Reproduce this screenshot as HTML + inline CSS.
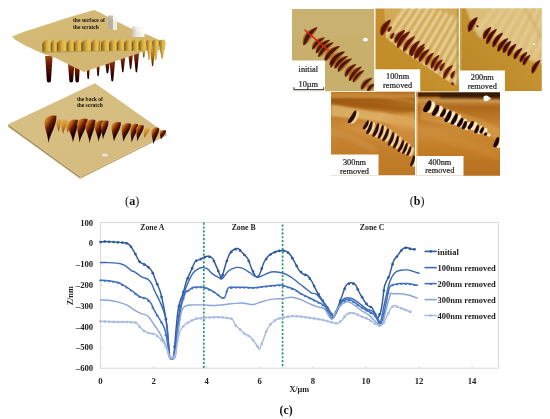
<!DOCTYPE html>
<html><head><meta charset="utf-8"><style>
html,body{margin:0;padding:0;background:#fff;}
body{width:550px;height:419px;overflow:hidden;}
svg{display:block;}
</style></head><body>
<svg width="550" height="419" viewBox="0 0 550 419">
<defs>
<linearGradient id="spk" x1="0" y1="0" x2="0" y2="1">
 <stop offset="0" stop-color="#9a4414"/><stop offset="0.3" stop-color="#6a1c06"/><stop offset="0.7" stop-color="#320600"/><stop offset="1" stop-color="#1a0300"/>
</linearGradient>
<linearGradient id="spk2" x1="0" y1="0" x2="0" y2="1">
 <stop offset="0" stop-color="#d8b040"/><stop offset="0.5" stop-color="#a87020"/><stop offset="1" stop-color="#4a1404"/>
</linearGradient>
<linearGradient id="bump" x1="0" y1="0" x2="1" y2="0">
 <stop offset="0" stop-color="#6a4c12"/><stop offset="0.2" stop-color="#a88028"/><stop offset="0.5" stop-color="#d8ae40"/><stop offset="0.8" stop-color="#eac65c"/><stop offset="1" stop-color="#c89a34"/>
</linearGradient>
<linearGradient id="flame" x1="0" y1="0.05" x2="0.55" y2="0.85">
 <stop offset="0" stop-color="#e2a23a"/><stop offset="0.25" stop-color="#c06a18"/><stop offset="0.5" stop-color="#6a1c06"/><stop offset="0.75" stop-color="#260500"/><stop offset="1" stop-color="#100200"/>
</linearGradient>
<linearGradient id="flameS" x1="0" y1="0" x2="0.35" y2="1">
 <stop offset="0" stop-color="#e8b450"/><stop offset="0.5" stop-color="#d09030"/><stop offset="1" stop-color="#904010"/>
</linearGradient>
<linearGradient id="whsp" x1="0" y1="0" x2="1" y2="0">
 <stop offset="0" stop-color="#ffffff" stop-opacity="0.2"/><stop offset="0.5" stop-color="#f4f2ee" stop-opacity="0.9"/><stop offset="1" stop-color="#ffffff" stop-opacity="0.3"/>
</linearGradient>
<linearGradient id="whsp2" x1="0" y1="0" x2="1" y2="0">
 <stop offset="0" stop-color="#c8c4b8" stop-opacity="0.8"/><stop offset="0.4" stop-color="#f0eee8" stop-opacity="0.9"/><stop offset="1" stop-color="#ffffff" stop-opacity="0.95"/>
</linearGradient>
<linearGradient id="sheet1" x1="0" y1="0" x2="1" y2="1">
 <stop offset="0" stop-color="#d6bc78"/><stop offset="1" stop-color="#d0b470"/>
</linearGradient>
<linearGradient id="sheet2" x1="0" y1="0" x2="1" y2="1">
 <stop offset="0" stop-color="#d8c084"/><stop offset="1" stop-color="#d4ba7c"/>
</linearGradient>
<filter id="ba" x="-0.1" y="-0.1" width="1.2" height="1.2"><feGaussianBlur stdDeviation="0.4"/></filter>
</defs>
<g filter="url(#ba)">
<path d="M45.2,56.0 L52.6,56.0 L50.9,81.5 Q48.9,83.5 46.9,81.5 Z" fill="url(#spk)"/>
<path d="M68.0,64.0 L74.4,64.0 L73.0,81.5 Q71.2,83.5 69.4,81.5 Z" fill="url(#spk)"/>
<path d="M74.4,64.0 L80.0,64.0 L78.9,81.5 Q77.2,83.5 75.5,81.5 Z" fill="url(#spk)"/>
<path d="M86.5,66.0 L89.8,66.0 L89.0,78.3 Q88.2,80.3 87.4,78.3 Z" fill="url(#spk)"/>
<path d="M96.4,64.0 L99.8,64.0 L98.9,75.2 Q98.1,77.2 97.3,75.2 Z" fill="url(#spk)"/>
<path d="M104.8,61.0 L110.0,61.0 L108.3,72.5 Q107.4,74.5 106.5,72.5 Z" fill="url(#spk)"/>
<path d="M109.5,60.0 L115.2,60.0 L113.3,80.6 Q112.3,82.6 111.3,80.6 Z" fill="url(#spk)"/>
<path d="M120.3,57.0 L125.3,57.0 L123.5,71.4 Q122.8,73.4 122.1,71.4 Z" fill="url(#spk)"/>
<path d="M128.2,54.0 L133.0,54.0 L131.3,68.3 Q130.6,70.3 129.9,68.3 Z" fill="url(#spk)"/>
<path d="M133.6,52.0 L139.2,52.0 L137.2,71.4 Q136.4,73.4 135.6,71.4 Z" fill="url(#spk)"/>
<path d="M142.2,50.0 L145.4,50.0 L144.4,56.7 Q143.8,58.7 143.2,56.7 Z" fill="url(#spk2)"/>
<path d="M149.8,46.0 L155.4,46.0 L153.3,65.2 Q152.6,67.2 151.9,65.2 Z" fill="url(#spk2)"/>
<path d="M159.2,42.0 L164.6,42.0 L162.6,55.9 Q161.9,57.9 161.2,55.9 Z" fill="url(#spk2)"/>
<polygon points="12.0,36.5 24.0,31.8 33.6,28.8 45.0,25.0 70.0,17.0 94.0,10.0 100.0,12.5 108.0,17.0 120.0,23.0 130.0,28.0 148.0,35.0 158.0,39.5 166.0,43.5 150.0,49.5 120.0,59.5 84.0,72.0 54.6,57.4 45.0,54.6 36.5,50.8 24.1,45.0 15.0,39.5" fill="url(#sheet1)"/>
<polygon points="42.0,45.0 100.0,42.0 165.0,40.0 165.0,50.0 100.0,51.5 43.0,53.0" fill="#a88a34" opacity="0.6"/>
<polygon points="108.0,15.5 113.0,15.5 113.0,29.0 108.0,29.0" fill="#b0aea6" opacity="0.8"/>
<polygon points="113.0,15.5 117.0,15.5 117.0,30.0 113.0,30.0" fill="#f6f4ee" opacity="0.85"/>
<polygon points="132.0,26.5 144.5,26.5 144.5,37.0 132.0,37.0" fill="url(#whsp2)"/>
<path d="M42.5,51.5 L42.5,43.5 Q44.6,39.5 48.4,39.5 Q51.4,40.0 51.4,43.5 L51.4,51.5 Z" fill="url(#bump)"/>
<path d="M50.9,51.4 L50.9,43.5 Q52.4,39.5 55.1,39.5 Q57.4,40.0 57.4,43.5 L57.4,51.4 Z" fill="url(#bump)"/>
<path d="M56.9,51.3 L56.9,43.4 Q59.4,39.4 63.8,39.4 Q67.2,39.9 67.2,43.4 L67.2,51.3 Z" fill="url(#bump)"/>
<path d="M66.7,51.2 L66.7,43.4 Q68.5,39.4 71.7,39.4 Q74.3,39.9 74.3,43.4 L74.3,51.2 Z" fill="url(#bump)"/>
<path d="M73.8,51.1 L73.8,43.4 Q75.7,39.4 79.1,39.4 Q81.9,39.9 81.9,43.4 L81.9,51.1 Z" fill="url(#bump)"/>
<path d="M81.4,51.0 L81.4,43.3 Q83.9,39.3 88.3,39.3 Q91.8,39.8 91.8,43.3 L91.8,51.0 Z" fill="url(#bump)"/>
<path d="M91.3,50.9 L91.3,43.3 Q93.2,39.3 96.6,39.3 Q99.4,39.8 99.4,43.3 L99.4,50.9 Z" fill="url(#bump)"/>
<path d="M98.9,50.8 L98.9,43.3 Q99.5,39.3 100.4,39.3 Q101.6,39.8 101.6,43.3 L101.6,50.8 Z" fill="url(#bump)"/>
<path d="M101.1,50.8 L101.1,43.3 Q103.1,39.3 106.8,39.3 Q109.8,39.8 109.8,43.3 L109.8,50.8 Z" fill="url(#bump)"/>
<path d="M109.3,50.7 L109.3,43.2 Q111.2,39.2 114.5,39.2 Q117.3,39.7 117.3,43.2 L117.3,50.7 Z" fill="url(#bump)"/>
<path d="M116.8,50.6 L116.8,43.2 Q118.7,39.2 122.0,39.2 Q124.8,39.7 124.8,43.2 L124.8,50.6 Z" fill="url(#bump)"/>
<path d="M124.3,50.5 L124.3,43.2 Q126.2,39.2 129.6,39.2 Q132.3,39.7 132.3,43.2 L132.3,50.5 Z" fill="url(#bump)"/>
<path d="M131.8,50.4 L131.8,43.1 Q133.5,39.1 136.6,39.1 Q139.2,39.6 139.2,43.1 L139.2,50.4 Z" fill="url(#bump)"/>
<path d="M138.7,50.3 L138.7,43.1 Q140.6,39.1 143.9,39.1 Q146.7,39.6 146.7,43.1 L146.7,50.3 Z" fill="url(#bump)"/>
<path d="M146.2,42.1 Q147.4,39.1 150.5,39.6 Q152.3,40.6 152.3,43.1 L149.9,60.0 L148.6,60.0 Z" fill="url(#bump)"/>
<path d="M152.3,42.1 Q153.7,39.1 157.1,39.6 Q159.1,40.6 159.1,43.1 L156.4,60.0 L155.0,60.0 Z" fill="url(#bump)"/>
<path d="M159.1,42.0 Q160.4,39.0 163.6,39.5 Q165.5,40.5 165.5,43.0 L162.9,59.0 L161.7,59.0 Z" fill="url(#bump)"/>
<text x="73" y="22.3" font-family="Liberation Serif, serif" font-weight="bold" font-size="5.5" fill="#16120c">the surface of</text>
<text x="73" y="29.2" font-family="Liberation Serif, serif" font-weight="bold" font-size="5.5" fill="#16120c">the scratch</text>
<polygon points="8.2,124.2 80.2,176.5 80.2,178.8 8.2,126.8" fill="#ad9660"/>
<polygon points="80.2,176.5 166.9,134.0 166.9,135.2 80.2,178.8" fill="#c2aa70"/>
<polygon points="95.0,83.3 166.9,134.0 80.2,176.5 8.2,124.2" fill="url(#sheet2)"/>
<path d="M56.5,116.0 C56.5,126.2 49.7,134.6 48.5,143.0 C47.5,133.2 44.5,129.0 44.5,122.8 C44.5,116.4 51.7,114.5 56.5,116.0 Z" fill="url(#flame)"/>
<path d="M61.0,120.0 C61.0,124.2 59.7,128.1 58.5,132.0 C57.5,127.5 56.0,125.5 56.0,122.6 C56.0,119.7 59.0,118.5 61.0,120.0 Z" fill="url(#flameS)"/>
<path d="M67.0,120.0 C67.0,125.0 64.2,129.5 63.0,134.0 C62.0,128.8 61.0,126.5 61.0,123.2 C61.0,119.8 64.6,118.5 67.0,120.0 Z" fill="url(#flameS)"/>
<path d="M71.0,122.0 C71.0,125.8 68.7,129.4 67.5,133.0 C66.5,128.8 66.0,127.0 66.0,124.4 C66.0,121.6 69.0,120.5 71.0,122.0 Z" fill="url(#flameS)"/>
<path d="M78.0,120.0 C78.0,128.4 74.2,135.5 73.0,142.6 C72.0,134.3 68.0,130.8 68.0,125.6 C68.0,120.2 74.0,118.5 78.0,120.0 Z" fill="url(#flame)"/>
<path d="M87.5,119.0 C87.5,127.8 80.8,135.2 79.6,142.6 C78.6,134.0 77.0,130.3 77.0,124.9 C77.0,119.2 83.3,117.5 87.5,119.0 Z" fill="url(#flame)"/>
<path d="M95.4,120.0 C95.4,128.6 90.8,135.9 89.6,143.1 C88.6,134.7 85.5,131.1 85.5,125.7 C85.5,120.2 91.4,118.5 95.4,120.0 Z" fill="url(#flame)"/>
<path d="M104.5,121.0 C104.5,128.7 99.7,135.3 98.5,141.8 C97.5,134.2 94.7,130.9 94.7,126.1 C94.7,121.1 100.6,119.5 104.5,121.0 Z" fill="url(#flame)"/>
<path d="M108.5,121.0 C108.5,127.8 104.2,133.7 103.0,139.5 C102.0,132.7 101.0,129.8 101.0,125.5 C101.0,121.0 105.5,119.5 108.5,121.0 Z" fill="url(#flame)"/>
<path d="M121.0,122.5 C121.0,129.6 115.2,135.7 114.0,141.8 C113.0,134.7 111.5,131.7 111.5,127.2 C111.5,122.5 117.2,121.0 121.0,122.5 Z" fill="url(#flame)"/>
<path d="M131.2,123.7 C131.2,130.3 124.7,136.1 123.5,141.8 C122.5,135.1 121.6,132.2 121.6,128.0 C121.6,123.7 127.4,122.2 131.2,123.7 Z" fill="url(#flame)"/>
<path d="M138.2,124.4 C138.2,131.0 133.0,136.8 131.8,142.5 C130.8,135.8 130.5,132.9 130.5,128.7 C130.5,124.4 135.1,122.9 138.2,124.4 Z" fill="url(#flame)"/>
<path d="M143.9,125.6 C143.9,131.4 138.7,136.4 137.5,141.5 C136.5,135.6 136.3,133.1 136.3,129.3 C136.3,125.4 140.9,124.1 143.9,125.6 Z" fill="url(#flame)"/>
<path d="M149.6,128.8 C149.6,131.9 145.7,134.9 144.5,138.0 C143.5,134.4 143.9,132.9 143.9,130.7 C143.9,128.3 147.3,127.3 149.6,128.8 Z" fill="url(#flameS)"/>
<path d="M159.2,128.2 C159.2,134.0 154.7,139.1 153.5,144.2 C152.5,138.2 151.5,135.7 151.5,132.0 C151.5,128.1 156.1,126.7 159.2,128.2 Z" fill="url(#flame)"/>
<path d="M166.2,130.7 C166.2,133.6 162.2,136.6 161.0,139.5 C160.0,136.1 159.8,134.6 159.8,132.4 C159.8,130.2 163.6,129.2 166.2,130.7 Z" fill="url(#flame)"/>
<ellipse cx="105" cy="155" rx="3" ry="1.6" fill="#e8e6e0"/>
<text x="76.9" y="100.8" font-family="Liberation Serif, serif" font-weight="bold" font-size="5.5" fill="#16120c">the back of</text>
<text x="76.9" y="107.3" font-family="Liberation Serif, serif" font-weight="bold" font-size="5.5" fill="#16120c">the scratch</text>
</g>
<defs>
<clipPath id="c1"><rect x="292" y="9" width="82.2" height="82.3"/></clipPath>
<clipPath id="c2"><rect x="375.5" y="8.5" width="83.5" height="83.1"/></clipPath>
<clipPath id="c3"><rect x="460" y="8.3" width="81.8" height="82.7"/></clipPath>
<clipPath id="c4"><rect x="331" y="92" width="84" height="83.2"/></clipPath>
<clipPath id="c5"><rect x="416.5" y="92.2" width="83.5" height="83.5"/></clipPath>
<filter id="bl1" x="-0.1" y="-0.1" width="1.2" height="1.2"><feGaussianBlur stdDeviation="0.55"/></filter>
<filter id="bl3" x="-0.2" y="-0.2" width="1.4" height="1.4"><feGaussianBlur stdDeviation="2.5"/></filter>
<filter id="bl1b" x="-0.1" y="-0.1" width="1.2" height="1.2"><feGaussianBlur stdDeviation="0.9"/></filter>
<filter id="bl2" x="-0.2" y="-0.2" width="1.4" height="1.4"><feGaussianBlur stdDeviation="1.2"/></filter>
<linearGradient id="g2" x1="0" y1="1" x2="1" y2="0">
 <stop offset="0" stop-color="#bf8828"/><stop offset="0.55" stop-color="#c6922e"/><stop offset="1" stop-color="#d2a548"/>
</linearGradient>
<linearGradient id="g3" x1="0" y1="1" x2="1" y2="0">
 <stop offset="0" stop-color="#b98426"/><stop offset="0.5" stop-color="#c2902e"/><stop offset="1" stop-color="#cda04a"/>
</linearGradient>
<linearGradient id="g4" x1="0" y1="0" x2="0" y2="1">
 <stop offset="0" stop-color="#a8641a"/><stop offset="0.07" stop-color="#c88838"/><stop offset="0.11" stop-color="#a25c14"/><stop offset="0.22" stop-color="#b87424"/>
 <stop offset="0.45" stop-color="#cf9040"/><stop offset="0.75" stop-color="#c4802e"/><stop offset="1" stop-color="#bb7626"/>
</linearGradient>
<linearGradient id="g5" x1="0" y1="0" x2="0" y2="1">
 <stop offset="0" stop-color="#5e2a06"/><stop offset="0.06" stop-color="#8a4a10"/><stop offset="0.12" stop-color="#c08a40"/><stop offset="0.2" stop-color="#b0681a"/>
 <stop offset="0.45" stop-color="#c98a35"/><stop offset="0.7" stop-color="#c27c25"/><stop offset="1" stop-color="#b56e1e"/>
</linearGradient>
</defs>
<g clip-path="url(#c1)"><g filter="url(#bl1)">
<rect x="290" y="7" width="86" height="86" fill="#c9af6c"/>
<rect x="290" y="7" width="86" height="30" fill="#cab476" opacity="0.5" filter="url(#bl3)"/>
<path d="M303.8,45.3 L305.8,44.8 L307.0,43.7 L308.1,42.5 L309.1,41.3 L310.0,40.0 L310.9,38.7 L311.8,37.3 L312.6,36.0 L313.5,34.6 L314.4,33.3 L315.3,31.9 L316.1,30.6 L316.9,29.2 L317.4,27.5 L317.0,27.2 L314.9,27.6 L313.1,28.2 L311.4,29.0 L309.8,29.8 L308.4,30.7 L307.1,31.7 L305.9,32.8 L304.9,34.1 L304.1,35.4 L303.4,36.9 L303.0,38.6 L302.7,40.4 L302.7,42.4 L303.4,45.0 Z" fill="#a85a16" opacity="0.8"/>
<path d="M312.5,49.4 L314.1,49.4 L315.3,48.8 L316.2,48.1 L317.1,47.3 L318.0,46.4 L318.8,45.5 L319.6,44.6 L320.4,43.7 L321.2,42.8 L322.0,41.8 L322.7,40.9 L323.5,40.0 L324.2,38.9 L324.7,37.8 L324.4,37.4 L322.7,37.4 L321.2,37.6 L319.9,37.9 L318.6,38.3 L317.4,38.8 L316.3,39.4 L315.3,40.1 L314.4,40.9 L313.6,41.8 L312.9,42.9 L312.4,44.1 L312.0,45.4 L311.8,47.0 L312.2,49.0 Z" fill="#a85a16" opacity="0.8"/>
<path d="M316.2,53.2 L317.9,53.0 L319.1,52.4 L320.2,51.5 L321.1,50.6 L322.1,49.6 L323.0,48.6 L323.9,47.6 L324.8,46.6 L325.7,45.6 L326.6,44.6 L327.5,43.6 L328.3,42.6 L329.2,41.5 L329.8,40.2 L329.4,39.8 L327.6,39.9 L326.0,40.1 L324.5,40.5 L323.1,41.0 L321.8,41.5 L320.6,42.2 L319.4,43.0 L318.5,43.9 L317.6,44.9 L316.8,46.1 L316.2,47.4 L315.8,48.9 L315.5,50.6 L315.8,52.8 Z" fill="#a85a16" opacity="0.8"/>
<path d="M318.6,56.9 L320.4,56.7 L321.7,55.9 L322.8,54.9 L323.9,53.9 L324.9,52.8 L325.9,51.7 L326.9,50.6 L327.9,49.5 L328.9,48.4 L329.9,47.3 L330.9,46.2 L331.9,45.1 L332.8,44.0 L333.6,42.6 L333.2,42.3 L331.3,42.4 L329.5,42.7 L327.9,43.2 L326.4,43.7 L325.0,44.3 L323.6,45.1 L322.4,46.0 L321.3,47.0 L320.4,48.1 L319.6,49.4 L318.9,50.8 L318.4,52.4 L318.0,54.2 L318.2,56.6 Z" fill="#a85a16" opacity="0.8"/>
<path d="M324.8,60.6 L326.6,60.4 L327.9,59.6 L329.0,58.6 L330.1,57.6 L331.1,56.5 L332.1,55.4 L333.1,54.3 L334.1,53.2 L335.1,52.1 L336.1,51.0 L337.1,49.9 L338.1,48.8 L339.1,47.7 L339.9,46.3 L339.5,46.0 L337.6,46.1 L335.8,46.4 L334.2,46.8 L332.7,47.4 L331.2,48.0 L329.9,48.8 L328.7,49.6 L327.6,50.7 L326.6,51.8 L325.8,53.1 L325.1,54.5 L324.6,56.1 L324.2,57.9 L324.4,60.3 Z" fill="#a85a16" opacity="0.8"/>
<path d="M329.8,65.0 L331.6,64.9 L332.8,64.2 L334.0,63.3 L335.0,62.4 L336.1,61.4 L337.1,60.4 L338.1,59.4 L339.1,58.4 L340.1,57.4 L341.1,56.4 L342.1,55.4 L343.0,54.4 L344.0,53.3 L344.7,52.0 L344.4,51.6 L342.5,51.6 L340.9,51.8 L339.3,52.2 L337.8,52.6 L336.4,53.1 L335.1,53.8 L333.9,54.6 L332.8,55.5 L331.8,56.5 L331.0,57.7 L330.3,59.0 L329.7,60.6 L329.3,62.3 L329.5,64.6 Z" fill="#a85a16" opacity="0.8"/>
<path d="M334.8,68.6 L336.4,68.5 L337.6,67.9 L338.6,67.1 L339.6,66.3 L340.5,65.3 L341.3,64.4 L342.2,63.4 L343.0,62.5 L343.9,61.5 L344.7,60.5 L345.6,59.6 L346.4,58.6 L347.2,57.6 L347.8,56.3 L347.4,56.0 L345.7,56.0 L344.1,56.2 L342.7,56.6 L341.4,57.0 L340.1,57.5 L338.9,58.1 L337.9,58.9 L336.9,59.7 L336.1,60.7 L335.4,61.8 L334.8,63.1 L334.4,64.5 L334.1,66.1 L334.4,68.3 Z" fill="#a85a16" opacity="0.8"/>
<path d="M338.2,71.8 L339.9,71.6 L341.1,71.0 L342.2,70.1 L343.1,69.2 L344.1,68.2 L345.0,67.2 L345.9,66.2 L346.8,65.2 L347.7,64.2 L348.6,63.2 L349.5,62.2 L350.3,61.2 L351.2,60.1 L351.8,58.8 L351.4,58.4 L349.6,58.5 L348.0,58.7 L346.5,59.1 L345.1,59.6 L343.8,60.1 L342.6,60.8 L341.4,61.6 L340.5,62.5 L339.6,63.5 L338.8,64.7 L338.2,66.0 L337.8,67.5 L337.5,69.2 L337.8,71.4 Z" fill="#a85a16" opacity="0.8"/>
<path d="M345.2,76.7 L346.8,76.6 L347.8,75.9 L348.7,75.2 L349.5,74.3 L350.3,73.4 L351.0,72.5 L351.7,71.5 L352.4,70.6 L353.1,69.6 L353.8,68.6 L354.4,67.7 L355.1,66.7 L355.7,65.6 L356.1,64.4 L355.7,64.1 L354.1,64.2 L352.6,64.5 L351.3,64.9 L350.1,65.4 L349.0,66.0 L347.9,66.6 L347.0,67.4 L346.2,68.2 L345.5,69.2 L345.0,70.3 L344.6,71.5 L344.3,72.8 L344.3,74.4 L344.8,76.4 Z" fill="#a85a16" opacity="0.8"/>
<path d="M349.4,81.1 L351.1,80.8 L352.2,80.0 L353.2,79.0 L354.1,78.0 L354.9,76.9 L355.7,75.9 L356.5,74.8 L357.3,73.7 L358.1,72.6 L358.9,71.5 L359.7,70.4 L360.5,69.3 L361.2,68.1 L361.7,66.8 L361.4,66.5 L359.6,66.7 L358.0,67.2 L356.6,67.7 L355.2,68.3 L353.9,69.0 L352.8,69.8 L351.8,70.7 L350.9,71.7 L350.1,72.8 L349.5,74.0 L349.0,75.4 L348.7,76.9 L348.6,78.6 L349.1,80.8 Z" fill="#a85a16" opacity="0.8"/>
<path d="M353.2,82.3 L354.7,82.2 L355.7,81.6 L356.6,80.8 L357.4,80.0 L358.2,79.2 L358.9,78.3 L359.7,77.4 L360.4,76.5 L361.1,75.6 L361.8,74.6 L362.4,73.7 L363.1,72.8 L363.7,71.8 L364.2,70.6 L363.8,70.3 L362.2,70.4 L360.9,70.7 L359.6,71.0 L358.4,71.5 L357.2,72.0 L356.2,72.6 L355.3,73.3 L354.5,74.1 L353.8,75.0 L353.2,76.1 L352.8,77.2 L352.5,78.5 L352.4,80.0 L352.8,82.0 Z" fill="#a85a16" opacity="0.8"/>
<path d="M361.3,89.7 L362.9,89.6 L363.9,89.1 L364.8,88.4 L365.6,87.6 L366.4,86.7 L367.1,85.8 L367.8,85.0 L368.5,84.0 L369.2,83.1 L369.9,82.2 L370.5,81.3 L371.2,80.3 L371.8,79.3 L372.2,78.1 L371.8,77.8 L370.2,77.8 L368.8,78.1 L367.5,78.4 L366.3,78.8 L365.2,79.4 L364.2,79.9 L363.3,80.6 L362.5,81.4 L361.8,82.4 L361.2,83.4 L360.8,84.6 L360.5,85.9 L360.4,87.3 L360.9,89.4 Z" fill="#a85a16" opacity="0.8"/>
<path d="M367.6,91.4 L369.0,91.7 L369.8,91.5 L370.5,91.1 L371.1,90.7 L371.7,90.2 L372.2,89.6 L372.6,89.0 L373.1,88.4 L373.5,87.8 L373.9,87.1 L374.2,86.4 L374.6,85.7 L374.9,85.0 L375.0,84.0 L374.7,83.7 L373.4,83.5 L372.4,83.5 L371.5,83.6 L370.6,83.8 L369.8,84.1 L369.0,84.4 L368.4,84.8 L367.8,85.3 L367.4,85.9 L367.0,86.6 L366.8,87.4 L366.7,88.3 L366.7,89.4 L367.3,91.1 Z" fill="#a85a16" opacity="0.8"/>
<path d="M325.8,60.7 L327.5,60.4 L328.6,59.6 L329.5,58.7 L330.4,57.7 L331.3,56.7 L332.1,55.7 L332.9,54.6 L333.7,53.6 L334.5,52.5 L335.3,51.5 L336.1,50.4 L336.9,49.3 L337.6,48.2 L338.1,46.9 L337.8,46.6 L336.0,46.8 L334.5,47.2 L333.1,47.7 L331.7,48.3 L330.5,48.9 L329.3,49.7 L328.3,50.5 L327.4,51.5 L326.6,52.6 L326.0,53.8 L325.5,55.1 L325.2,56.6 L325.0,58.2 L325.5,60.4 Z" fill="#a85a16" opacity="0.8"/>
<path d="M330.8,67.6 L332.5,67.1 L333.6,66.1 L334.5,65.0 L335.4,63.9 L336.2,62.7 L337.0,61.6 L337.8,60.4 L338.6,59.2 L339.4,58.0 L340.2,56.8 L341.1,55.6 L341.9,54.4 L342.6,53.2 L343.2,51.8 L342.8,51.5 L340.9,51.9 L339.4,52.5 L337.9,53.1 L336.5,53.9 L335.2,54.7 L334.0,55.6 L333.0,56.6 L332.1,57.7 L331.4,58.9 L330.8,60.3 L330.3,61.7 L330.0,63.3 L329.9,65.0 L330.4,67.3 Z" fill="#a85a16" opacity="0.8"/>
<path d="M303.8,45.3 L305.1,44.2 L306.1,43.0 L307.0,41.7 L307.8,40.3 L308.7,39.0 L309.6,37.6 L310.5,36.3 L311.4,35.0 L312.4,33.7 L313.4,32.5 L314.4,31.3 L315.4,30.1 L316.5,28.8 L317.4,27.5 L317.0,27.2 L315.3,28.0 L313.8,28.8 L312.3,29.6 L310.9,30.6 L309.5,31.6 L308.3,32.6 L307.2,33.8 L306.3,35.1 L305.4,36.4 L304.7,37.9 L304.1,39.5 L303.7,41.1 L303.4,42.9 L303.4,45.0 Z" fill="#4a1206"/>
<path d="M312.5,49.4 L313.5,48.7 L314.4,47.9 L315.2,47.0 L316.0,46.1 L316.8,45.2 L317.6,44.3 L318.5,43.4 L319.3,42.5 L320.2,41.7 L321.1,40.9 L322.0,40.1 L322.9,39.3 L323.8,38.5 L324.7,37.8 L324.4,37.4 L323.1,37.8 L321.8,38.2 L320.6,38.7 L319.5,39.2 L318.4,39.8 L317.4,40.5 L316.4,41.3 L315.5,42.1 L314.7,43.0 L314.0,44.0 L313.4,45.1 L312.9,46.3 L312.4,47.6 L312.2,49.0 Z" fill="#4a1206"/>
<path d="M316.2,53.2 L317.3,52.4 L318.2,51.5 L319.1,50.5 L320.0,49.4 L320.9,48.4 L321.8,47.4 L322.7,46.4 L323.7,45.5 L324.7,44.6 L325.7,43.7 L326.7,42.8 L327.7,41.9 L328.8,41.1 L329.8,40.2 L329.4,39.8 L328.0,40.3 L326.6,40.8 L325.3,41.3 L324.0,41.9 L322.8,42.6 L321.6,43.3 L320.6,44.2 L319.6,45.1 L318.7,46.1 L317.9,47.3 L317.2,48.5 L316.6,49.8 L316.1,51.2 L315.8,52.8 Z" fill="#4a1206"/>
<path d="M318.6,56.9 L319.8,56.0 L320.8,55.0 L321.8,53.9 L322.8,52.7 L323.7,51.6 L324.7,50.5 L325.7,49.4 L326.8,48.4 L327.9,47.4 L329.0,46.4 L330.1,45.4 L331.3,44.5 L332.4,43.6 L333.6,42.6 L333.2,42.3 L331.7,42.8 L330.1,43.3 L328.7,44.0 L327.3,44.6 L326.0,45.4 L324.7,46.2 L323.6,47.2 L322.5,48.2 L321.5,49.3 L320.7,50.5 L319.9,51.9 L319.2,53.3 L318.6,54.8 L318.2,56.6 Z" fill="#4a1206"/>
<path d="M324.8,60.6 L326.0,59.7 L327.0,58.7 L328.0,57.6 L329.0,56.4 L330.0,55.3 L331.0,54.2 L332.0,53.1 L333.0,52.1 L334.1,51.1 L335.2,50.1 L336.4,49.1 L337.5,48.2 L338.7,47.3 L339.9,46.3 L339.5,46.0 L338.0,46.5 L336.4,47.0 L335.0,47.6 L333.6,48.3 L332.2,49.1 L331.0,49.9 L329.8,50.8 L328.8,51.9 L327.8,53.0 L326.9,54.2 L326.1,55.6 L325.4,57.0 L324.8,58.5 L324.4,60.3 Z" fill="#4a1206"/>
<path d="M329.8,65.0 L331.0,64.2 L332.0,63.2 L333.0,62.2 L334.0,61.2 L335.0,60.2 L336.0,59.2 L337.0,58.2 L338.0,57.2 L339.1,56.3 L340.2,55.4 L341.3,54.6 L342.5,53.7 L343.6,52.9 L344.7,52.0 L344.4,51.6 L342.9,52.0 L341.4,52.5 L340.0,53.0 L338.6,53.6 L337.3,54.2 L336.1,55.0 L334.9,55.8 L333.9,56.7 L332.9,57.8 L332.0,58.9 L331.2,60.2 L330.5,61.5 L329.9,62.9 L329.5,64.6 Z" fill="#4a1206"/>
<path d="M334.8,68.6 L335.8,67.9 L336.8,67.0 L337.6,66.1 L338.5,65.1 L339.3,64.1 L340.2,63.2 L341.0,62.2 L341.9,61.3 L342.9,60.5 L343.8,59.6 L344.8,58.8 L345.8,58.0 L346.8,57.1 L347.8,56.3 L347.4,56.0 L346.1,56.4 L344.7,56.8 L343.5,57.4 L342.2,57.9 L341.1,58.6 L340.0,59.3 L339.0,60.1 L338.1,61.0 L337.2,61.9 L336.5,63.0 L335.8,64.2 L335.2,65.4 L334.8,66.8 L334.4,68.3 Z" fill="#4a1206"/>
<path d="M338.2,71.8 L339.3,71.0 L340.2,70.1 L341.1,69.1 L342.0,68.0 L342.9,67.0 L343.8,66.0 L344.7,65.0 L345.7,64.1 L346.7,63.2 L347.7,62.3 L348.7,61.4 L349.7,60.5 L350.8,59.7 L351.8,58.8 L351.4,58.4 L350.0,58.9 L348.6,59.4 L347.3,59.9 L346.0,60.5 L344.8,61.2 L343.6,61.9 L342.6,62.8 L341.6,63.7 L340.7,64.7 L339.9,65.9 L339.2,67.1 L338.6,68.4 L338.1,69.8 L337.8,71.4 Z" fill="#4a1206"/>
<path d="M345.2,76.7 L346.1,76.0 L346.9,75.1 L347.6,74.2 L348.4,73.2 L349.0,72.3 L349.8,71.4 L350.5,70.4 L351.2,69.5 L352.0,68.6 L352.8,67.8 L353.6,66.9 L354.4,66.1 L355.3,65.2 L356.1,64.4 L355.7,64.1 L354.5,64.6 L353.3,65.1 L352.2,65.6 L351.1,66.2 L350.1,66.9 L349.1,67.7 L348.3,68.5 L347.5,69.3 L346.8,70.3 L346.2,71.3 L345.7,72.5 L345.3,73.7 L345.0,74.9 L344.8,76.4 Z" fill="#4a1206"/>
<path d="M349.4,81.1 L350.4,80.2 L351.3,79.2 L352.1,78.1 L352.9,77.0 L353.7,75.9 L354.4,74.8 L355.3,73.7 L356.1,72.6 L357.0,71.6 L357.9,70.6 L358.9,69.7 L359.8,68.7 L360.8,67.8 L361.7,66.8 L361.4,66.5 L360.0,67.1 L358.7,67.7 L357.4,68.4 L356.2,69.1 L355.0,69.9 L354.0,70.8 L353.0,71.8 L352.2,72.8 L351.4,73.9 L350.7,75.1 L350.1,76.4 L349.6,77.7 L349.2,79.2 L349.1,80.8 Z" fill="#4a1206"/>
<path d="M353.2,82.3 L354.1,81.6 L354.8,80.7 L355.6,79.8 L356.3,78.9 L357.0,78.0 L357.7,77.1 L358.4,76.2 L359.2,75.4 L360.0,74.6 L360.8,73.8 L361.6,73.0 L362.5,72.2 L363.3,71.4 L364.2,70.6 L363.8,70.3 L362.7,70.8 L361.5,71.2 L360.4,71.8 L359.3,72.3 L358.3,73.0 L357.4,73.7 L356.5,74.4 L355.7,75.3 L355.0,76.2 L354.4,77.2 L353.9,78.2 L353.4,79.4 L353.0,80.6 L352.8,82.0 Z" fill="#4a1206"/>
<path d="M361.3,89.7 L362.2,89.0 L363.0,88.2 L363.8,87.4 L364.5,86.5 L365.2,85.6 L365.9,84.7 L366.6,83.8 L367.4,83.0 L368.1,82.1 L368.9,81.3 L369.7,80.5 L370.6,79.7 L371.4,78.9 L372.2,78.1 L371.8,77.8 L370.6,78.2 L369.4,78.7 L368.3,79.2 L367.3,79.7 L366.2,80.3 L365.3,81.0 L364.5,81.8 L363.7,82.6 L363.0,83.5 L362.4,84.5 L361.9,85.6 L361.4,86.7 L361.1,87.9 L360.9,89.4 Z" fill="#4a1206"/>
<path d="M367.6,91.4 L368.3,91.1 L368.9,90.6 L369.5,90.1 L370.0,89.5 L370.5,89.0 L371.0,88.4 L371.4,87.8 L371.9,87.3 L372.4,86.7 L373.0,86.2 L373.5,85.7 L374.0,85.1 L374.5,84.6 L375.0,84.0 L374.7,83.7 L373.8,83.9 L373.0,84.2 L372.2,84.4 L371.5,84.7 L370.8,85.1 L370.2,85.5 L369.6,86.0 L369.0,86.5 L368.6,87.1 L368.2,87.7 L367.8,88.4 L367.5,89.2 L367.3,90.1 L367.3,91.1 Z" fill="#4a1206"/>
<path d="M325.8,60.7 L326.8,59.8 L327.7,58.8 L328.5,57.7 L329.2,56.7 L330.0,55.6 L330.8,54.5 L331.6,53.5 L332.5,52.5 L333.4,51.5 L334.3,50.6 L335.3,49.7 L336.2,48.8 L337.2,47.8 L338.1,46.9 L337.8,46.6 L336.5,47.2 L335.1,47.8 L333.9,48.4 L332.7,49.1 L331.6,49.9 L330.5,50.7 L329.5,51.6 L328.7,52.6 L327.9,53.7 L327.2,54.8 L326.6,56.1 L326.1,57.4 L325.7,58.8 L325.5,60.4 Z" fill="#4a1206"/>
<path d="M330.8,67.6 L331.8,66.5 L332.6,65.3 L333.4,64.1 L334.2,62.9 L334.9,61.7 L335.7,60.5 L336.5,59.3 L337.4,58.2 L338.3,57.1 L339.2,56.0 L340.2,55.0 L341.2,53.9 L342.2,52.9 L343.2,51.8 L342.8,51.5 L341.4,52.3 L340.0,53.0 L338.7,53.8 L337.5,54.7 L336.3,55.6 L335.3,56.6 L334.3,57.6 L333.4,58.7 L332.7,59.9 L332.0,61.2 L331.4,62.6 L331.0,64.1 L330.6,65.6 L330.4,67.3 Z" fill="#4a1206"/>
<line x1="304.5" y1="29.7" x2="328.2" y2="50.1" stroke="#e41e16" stroke-width="1.5"/>
<path d="M362.8,40.5 Q363,37.6 365.5,37.8 Q368.2,38.4 367.8,40.6 Q366,42.6 362.8,40.5 Z" fill="#fff"/>
</g></g>
<rect x="292" y="60.5" width="33.0" height="30.8" fill="#fff"/><text x="308.3" y="72.0" font-family="Liberation Serif, serif" font-size="8.3" text-anchor="middle" fill="#262626" stroke="#262626" stroke-width="0.22">initial</text><text x="308.3" y="86.8" font-family="Liberation Serif, serif" font-size="8.3" text-anchor="middle" fill="#262626" stroke="#262626" stroke-width="0.22">10µm</text>
<path d="M293.9,87.3 L293.9,89.6 L323.6,89.6 L323.6,87.3" fill="none" stroke="#4a4a4a" stroke-width="1.1"/>
<g clip-path="url(#c2)"><g filter="url(#bl1)">
<rect x="373" y="6" width="88" height="88" fill="url(#g2)"/>
<clipPath id="s2"><polygon points="384,8 462,8 462,86 452,84 440,76 425,66 410,56 396,46 386,38"/></clipPath>
<g clip-path="url(#s2)"><g filter="url(#bl1b)">
<rect x="375" y="8" width="86" height="84" fill="#d2aa58"/>
<line x1="381.0" y1="44.0" x2="411.0" y2="0.0" stroke="#ecd498" stroke-width="3.4" opacity="0.95"/>
<line x1="384.2" y1="44.0" x2="414.2" y2="0.0" stroke="#b88a30" stroke-width="1.2" opacity="0.6"/>
<line x1="387.0" y1="47.4" x2="417.0" y2="2.2" stroke="#ecd498" stroke-width="3.4" opacity="0.95"/>
<line x1="390.2" y1="47.4" x2="420.2" y2="2.2" stroke="#b88a30" stroke-width="1.2" opacity="0.6"/>
<line x1="393.0" y1="50.8" x2="423.0" y2="4.4" stroke="#ecd498" stroke-width="3.4" opacity="0.95"/>
<line x1="396.2" y1="50.8" x2="426.2" y2="4.4" stroke="#b88a30" stroke-width="1.2" opacity="0.6"/>
<line x1="399.0" y1="54.2" x2="429.0" y2="6.6" stroke="#ecd498" stroke-width="3.4" opacity="0.95"/>
<line x1="402.2" y1="54.2" x2="432.2" y2="6.6" stroke="#b88a30" stroke-width="1.2" opacity="0.6"/>
<line x1="405.0" y1="57.6" x2="435.0" y2="8.8" stroke="#ecd498" stroke-width="3.4" opacity="0.95"/>
<line x1="408.2" y1="57.6" x2="438.2" y2="8.8" stroke="#b88a30" stroke-width="1.2" opacity="0.6"/>
<line x1="411.0" y1="61.0" x2="441.0" y2="11.0" stroke="#ecd498" stroke-width="3.4" opacity="0.95"/>
<line x1="414.2" y1="61.0" x2="444.2" y2="11.0" stroke="#b88a30" stroke-width="1.2" opacity="0.6"/>
<line x1="417.0" y1="64.4" x2="447.0" y2="13.2" stroke="#ecd498" stroke-width="3.4" opacity="0.95"/>
<line x1="420.2" y1="64.4" x2="450.2" y2="13.2" stroke="#b88a30" stroke-width="1.2" opacity="0.6"/>
<line x1="423.0" y1="67.8" x2="453.0" y2="15.4" stroke="#ecd498" stroke-width="3.4" opacity="0.95"/>
<line x1="426.2" y1="67.8" x2="456.2" y2="15.4" stroke="#b88a30" stroke-width="1.2" opacity="0.6"/>
<line x1="429.0" y1="71.2" x2="459.0" y2="17.6" stroke="#ecd498" stroke-width="3.4" opacity="0.95"/>
<line x1="432.2" y1="71.2" x2="462.2" y2="17.6" stroke="#b88a30" stroke-width="1.2" opacity="0.6"/>
<line x1="435.0" y1="74.6" x2="465.0" y2="19.8" stroke="#ecd498" stroke-width="3.4" opacity="0.95"/>
<line x1="438.2" y1="74.6" x2="468.2" y2="19.8" stroke="#b88a30" stroke-width="1.2" opacity="0.6"/>
<line x1="441.0" y1="78.0" x2="471.0" y2="22.0" stroke="#ecd498" stroke-width="3.4" opacity="0.95"/>
<line x1="444.2" y1="78.0" x2="474.2" y2="22.0" stroke="#b88a30" stroke-width="1.2" opacity="0.6"/>
<line x1="447.0" y1="81.4" x2="477.0" y2="24.2" stroke="#ecd498" stroke-width="3.4" opacity="0.95"/>
<line x1="450.2" y1="81.4" x2="480.2" y2="24.2" stroke="#b88a30" stroke-width="1.2" opacity="0.6"/>
<line x1="453.0" y1="84.8" x2="483.0" y2="26.4" stroke="#ecd498" stroke-width="3.4" opacity="0.95"/>
<line x1="456.2" y1="84.8" x2="486.2" y2="26.4" stroke="#b88a30" stroke-width="1.2" opacity="0.6"/>
<line x1="459.0" y1="88.2" x2="489.0" y2="28.6" stroke="#ecd498" stroke-width="3.4" opacity="0.95"/>
<line x1="462.2" y1="88.2" x2="492.2" y2="28.6" stroke="#b88a30" stroke-width="1.2" opacity="0.6"/>
</g></g>
<line x1="457.5" y1="8" x2="457.5" y2="92" stroke="#b88a36" stroke-width="2" opacity="0.6"/>
<path d="M381.4,35.4 L383.2,35.0 L384.3,34.2 L385.2,33.2 L385.9,32.1 L386.6,31.0 L387.2,29.9 L387.8,28.7 L388.3,27.5 L388.8,26.3 L389.3,25.1 L389.8,23.9 L390.3,22.7 L390.6,21.4 L390.7,19.9 L390.3,19.7 L388.5,20.1 L387.1,20.8 L385.7,21.5 L384.5,22.2 L383.4,23.1 L382.5,24.0 L381.6,25.0 L380.9,26.1 L380.4,27.3 L380.0,28.5 L379.8,29.9 L379.7,31.4 L380.0,33.1 L381.0,35.2 Z" fill="#a04812" opacity="0.7"/>
<path d="M388.2,31.7 L389.2,31.9 L389.7,31.8 L390.2,31.6 L390.6,31.3 L390.9,30.9 L391.1,30.6 L391.3,30.2 L391.5,29.8 L391.7,29.3 L391.8,28.9 L391.9,28.4 L392.0,27.9 L392.0,27.4 L391.9,26.7 L391.5,26.5 L390.7,26.4 L390.0,26.5 L389.5,26.6 L388.9,26.7 L388.4,26.9 L388.0,27.2 L387.6,27.5 L387.3,27.8 L387.1,28.2 L387.0,28.6 L386.9,29.1 L387.0,29.7 L387.2,30.5 L387.8,31.5 Z" fill="#a04812" opacity="0.7"/>
<path d="M391.3,39.1 L392.3,39.1 L392.9,38.8 L393.3,38.4 L393.6,38.0 L393.9,37.6 L394.1,37.2 L394.2,36.7 L394.4,36.2 L394.5,35.7 L394.6,35.2 L394.6,34.7 L394.6,34.1 L394.6,33.5 L394.4,32.9 L394.0,32.7 L393.2,32.8 L392.5,33.1 L391.9,33.3 L391.3,33.6 L390.9,33.9 L390.5,34.3 L390.1,34.6 L389.9,35.1 L389.7,35.5 L389.6,36.1 L389.7,36.6 L389.8,37.2 L390.1,38.0 L390.9,38.9 Z" fill="#a04812" opacity="0.7"/>
<path d="M395.1,42.9 L396.7,42.7 L397.8,42.1 L398.7,41.4 L399.4,40.5 L400.1,39.6 L400.8,38.7 L401.4,37.8 L402.0,36.8 L402.6,35.8 L403.2,34.8 L403.8,33.8 L404.3,32.8 L404.8,31.7 L405.0,30.5 L404.6,30.1 L403.0,30.3 L401.7,30.7 L400.4,31.2 L399.3,31.7 L398.2,32.3 L397.3,33.0 L396.4,33.7 L395.7,34.6 L395.1,35.6 L394.6,36.6 L394.2,37.8 L394.0,39.1 L394.1,40.6 L394.7,42.5 Z" fill="#a04812" opacity="0.7"/>
<path d="M397.5,47.9 L399.3,47.4 L400.4,46.5 L401.5,45.4 L402.4,44.3 L403.2,43.1 L404.0,41.9 L404.8,40.7 L405.6,39.5 L406.4,38.2 L407.2,37.0 L408.0,35.8 L408.7,34.5 L409.4,33.2 L409.9,31.8 L409.5,31.4 L407.7,31.9 L406.1,32.5 L404.6,33.2 L403.2,33.9 L401.9,34.8 L400.8,35.7 L399.7,36.8 L398.8,37.9 L398.1,39.1 L397.4,40.5 L397.0,41.9 L396.6,43.5 L396.6,45.3 L397.1,47.5 Z" fill="#a04812" opacity="0.7"/>
<path d="M403.7,51.6 L405.4,51.1 L406.5,50.3 L407.4,49.3 L408.2,48.3 L409.0,47.2 L409.8,46.1 L410.5,45.0 L411.2,43.9 L411.9,42.7 L412.6,41.6 L413.3,40.4 L413.9,39.2 L414.5,38.0 L414.9,36.7 L414.5,36.3 L412.8,36.7 L411.3,37.3 L410.0,37.9 L408.7,38.6 L407.5,39.4 L406.4,40.3 L405.5,41.2 L404.7,42.3 L404.0,43.4 L403.4,44.7 L403.0,46.0 L402.8,47.5 L402.7,49.2 L403.3,51.2 Z" fill="#a04812" opacity="0.7"/>
<path d="M409.9,55.2 L411.5,54.9 L412.6,54.1 L413.4,53.2 L414.2,52.2 L414.9,51.2 L415.6,50.1 L416.2,49.1 L416.8,48.0 L417.4,46.9 L418.0,45.8 L418.6,44.7 L419.1,43.5 L419.6,42.4 L419.9,41.0 L419.5,40.8 L417.9,41.1 L416.5,41.7 L415.2,42.3 L414.0,43.0 L412.9,43.7 L411.9,44.5 L411.1,45.4 L410.3,46.4 L409.7,47.5 L409.3,48.7 L408.9,50.0 L408.8,51.4 L408.8,53.0 L409.5,55.0 Z" fill="#a04812" opacity="0.7"/>
<path d="M414.9,59.0 L416.5,58.6 L417.5,57.7 L418.4,56.7 L419.1,55.7 L419.8,54.6 L420.4,53.5 L421.1,52.4 L421.7,51.3 L422.3,50.1 L422.9,49.0 L423.5,47.8 L424.0,46.7 L424.5,45.5 L424.8,44.1 L424.4,43.9 L422.8,44.3 L421.4,44.9 L420.1,45.6 L418.9,46.4 L417.8,47.2 L416.9,48.1 L416.0,49.0 L415.3,50.1 L414.7,51.2 L414.2,52.4 L413.9,53.8 L413.7,55.2 L413.8,56.8 L414.5,58.8 Z" fill="#a04812" opacity="0.7"/>
<path d="M411.3,56.3 L412.6,56.1 L413.3,55.5 L413.9,54.9 L414.4,54.2 L414.8,53.5 L415.1,52.8 L415.5,52.0 L415.8,51.2 L416.1,50.5 L416.3,49.7 L416.6,48.9 L416.8,48.0 L416.9,47.2 L416.9,46.2 L416.5,46.0 L415.3,46.3 L414.4,46.7 L413.5,47.1 L412.7,47.6 L412.0,48.2 L411.3,48.8 L410.8,49.4 L410.4,50.1 L410.1,50.9 L409.9,51.7 L409.8,52.6 L409.8,53.6 L410.1,54.7 L410.9,56.1 Z" fill="#a04812" opacity="0.7"/>
<path d="M416.9,57.5 L418.3,57.4 L419.1,56.9 L419.8,56.3 L420.5,55.6 L421.0,54.9 L421.6,54.1 L422.1,53.4 L422.5,52.6 L423.0,51.8 L423.4,50.9 L423.9,50.1 L424.3,49.3 L424.6,48.4 L424.8,47.4 L424.4,47.0 L423.1,47.2 L422.0,47.5 L421.0,47.9 L420.1,48.3 L419.2,48.8 L418.4,49.3 L417.7,50.0 L417.1,50.7 L416.6,51.4 L416.3,52.3 L416.0,53.3 L415.9,54.3 L415.9,55.5 L416.5,57.1 Z" fill="#a04812" opacity="0.7"/>
<path d="M419.2,62.0 L420.7,61.7 L421.7,61.1 L422.6,60.3 L423.4,59.5 L424.1,58.6 L424.8,57.7 L425.4,56.8 L426.0,55.8 L426.7,54.8 L427.3,53.9 L427.9,52.9 L428.4,51.9 L429.0,50.9 L429.3,49.7 L428.9,49.3 L427.4,49.6 L426.1,50.0 L424.9,50.4 L423.7,51.0 L422.7,51.6 L421.7,52.3 L420.9,53.0 L420.1,53.9 L419.5,54.8 L419.0,55.9 L418.6,57.0 L418.3,58.3 L418.3,59.8 L418.8,61.6 Z" fill="#a04812" opacity="0.7"/>
<path d="M425.9,65.3 L427.3,65.0 L428.2,64.3 L428.9,63.5 L429.5,62.7 L430.1,61.8 L430.6,60.9 L431.1,59.9 L431.5,59.0 L432.0,58.0 L432.4,57.1 L432.8,56.1 L433.2,55.1 L433.6,54.1 L433.7,52.9 L433.3,52.7 L431.9,53.0 L430.7,53.5 L429.7,54.1 L428.7,54.7 L427.8,55.4 L427.0,56.1 L426.3,56.9 L425.7,57.8 L425.2,58.7 L424.9,59.7 L424.7,60.8 L424.6,62.0 L424.8,63.4 L425.5,65.1 Z" fill="#a04812" opacity="0.7"/>
<path d="M431.5,68.6 L432.9,68.2 L433.8,67.4 L434.5,66.5 L435.1,65.6 L435.7,64.6 L436.2,63.7 L436.7,62.6 L437.1,61.6 L437.6,60.6 L438.0,59.6 L438.4,58.6 L438.8,57.5 L439.2,56.4 L439.3,55.2 L438.9,55.0 L437.5,55.4 L436.3,56.0 L435.2,56.7 L434.2,57.4 L433.2,58.1 L432.4,58.9 L431.7,59.8 L431.1,60.7 L430.7,61.7 L430.4,62.8 L430.2,64.0 L430.1,65.3 L430.3,66.7 L431.1,68.4 Z" fill="#a04812" opacity="0.7"/>
<path d="M434.9,70.9 L436.3,70.7 L437.1,70.1 L437.8,69.4 L438.5,68.7 L439.0,67.9 L439.5,67.0 L440.0,66.2 L440.5,65.3 L440.9,64.5 L441.4,63.6 L441.8,62.7 L442.2,61.8 L442.5,60.8 L442.7,59.7 L442.3,59.5 L441.0,59.7 L439.8,60.1 L438.8,60.6 L437.8,61.1 L437.0,61.7 L436.2,62.3 L435.5,63.0 L434.9,63.8 L434.4,64.7 L434.1,65.6 L433.9,66.6 L433.8,67.8 L433.9,69.0 L434.5,70.7 Z" fill="#a04812" opacity="0.7"/>
<path d="M440.5,70.9 L441.6,70.8 L442.3,70.4 L442.8,70.0 L443.2,69.5 L443.6,68.9 L443.9,68.3 L444.1,67.7 L444.3,67.1 L444.6,66.5 L444.7,65.9 L444.9,65.2 L445.0,64.5 L445.1,63.8 L445.0,63.0 L444.6,62.8 L443.6,63.0 L442.8,63.2 L442.0,63.6 L441.4,63.9 L440.8,64.3 L440.2,64.8 L439.8,65.3 L439.4,65.8 L439.2,66.4 L439.0,67.1 L439.0,67.8 L439.1,68.6 L439.3,69.5 L440.1,70.7 Z" fill="#a04812" opacity="0.7"/>
<path d="M443.8,78.7 L445.3,78.3 L446.2,77.6 L447.0,76.7 L447.7,75.8 L448.3,74.8 L448.9,73.8 L449.5,72.8 L450.0,71.8 L450.6,70.8 L451.1,69.7 L451.6,68.7 L452.1,67.6 L452.5,66.6 L452.8,65.3 L452.4,65.1 L450.9,65.5 L449.6,66.0 L448.5,66.6 L447.4,67.3 L446.4,68.0 L445.5,68.8 L444.7,69.6 L444.1,70.6 L443.5,71.6 L443.1,72.7 L442.8,73.9 L442.7,75.2 L442.8,76.6 L443.4,78.5 Z" fill="#a04812" opacity="0.7"/>
<path d="M451.7,78.7 L452.8,78.5 L453.4,78.1 L453.8,77.6 L454.1,77.1 L454.4,76.5 L454.6,76.0 L454.8,75.4 L454.9,74.8 L455.0,74.2 L455.1,73.6 L455.2,72.9 L455.2,72.3 L455.2,71.6 L455.0,70.9 L454.6,70.7 L453.7,71.0 L452.9,71.3 L452.3,71.7 L451.7,72.1 L451.2,72.5 L450.7,73.0 L450.4,73.5 L450.1,74.1 L449.9,74.6 L449.9,75.3 L449.9,76.0 L450.1,76.7 L450.4,77.5 L451.3,78.5 Z" fill="#a04812" opacity="0.7"/>
<path d="M452.2,85.1 L453.0,85.4 L453.5,85.4 L453.8,85.4 L454.0,85.3 L454.2,85.1 L454.3,84.9 L454.4,84.7 L454.4,84.5 L454.4,84.2 L454.3,84.0 L454.3,83.7 L454.1,83.4 L454.0,83.0 L453.7,82.6 L453.3,82.4 L452.7,82.3 L452.3,82.2 L451.9,82.2 L451.5,82.3 L451.2,82.3 L450.9,82.4 L450.7,82.5 L450.6,82.7 L450.5,82.9 L450.5,83.1 L450.6,83.4 L450.8,83.8 L451.1,84.2 L451.8,84.9 Z" fill="#a04812" opacity="0.7"/>
<path d="M381.4,35.4 L382.7,34.7 L383.5,33.7 L384.2,32.6 L384.9,31.5 L385.5,30.3 L386.1,29.2 L386.7,28.0 L387.3,26.9 L387.9,25.7 L388.5,24.6 L389.1,23.5 L389.7,22.3 L390.3,21.2 L390.7,19.9 L390.3,19.7 L388.9,20.3 L387.6,21.1 L386.5,21.9 L385.4,22.8 L384.4,23.7 L383.5,24.6 L382.7,25.7 L382.0,26.8 L381.5,27.9 L381.0,29.2 L380.7,30.5 L380.6,31.9 L380.6,33.4 L381.0,35.2 Z" fill="#581406"/>
<path d="M388.2,31.7 L388.6,31.5 L389.0,31.2 L389.3,30.9 L389.6,30.5 L389.8,30.2 L390.1,29.8 L390.3,29.4 L390.5,29.0 L390.8,28.7 L391.0,28.3 L391.2,27.9 L391.4,27.5 L391.6,27.1 L391.9,26.7 L391.5,26.5 L391.1,26.7 L390.6,26.9 L390.1,27.1 L389.7,27.3 L389.3,27.6 L389.0,27.9 L388.7,28.2 L388.4,28.6 L388.2,29.0 L388.0,29.4 L387.8,29.8 L387.8,30.3 L387.7,30.9 L387.8,31.5 Z" fill="#581406"/>
<path d="M391.3,39.1 L391.7,38.7 L392.0,38.4 L392.3,37.9 L392.5,37.5 L392.7,37.0 L392.9,36.6 L393.1,36.1 L393.3,35.7 L393.5,35.2 L393.7,34.7 L393.8,34.3 L394.0,33.8 L394.2,33.3 L394.4,32.9 L394.0,32.7 L393.6,33.0 L393.1,33.3 L392.6,33.7 L392.2,34.0 L391.9,34.4 L391.6,34.8 L391.3,35.2 L391.1,35.7 L390.9,36.1 L390.7,36.6 L390.7,37.1 L390.7,37.7 L390.7,38.3 L390.9,38.9 Z" fill="#581406"/>
<path d="M395.1,42.9 L396.2,42.3 L397.0,41.5 L397.8,40.6 L398.5,39.7 L399.1,38.8 L399.8,37.9 L400.4,37.0 L401.1,36.0 L401.8,35.1 L402.4,34.2 L403.1,33.3 L403.8,32.4 L404.4,31.4 L405.0,30.5 L404.6,30.1 L403.4,30.6 L402.2,31.1 L401.1,31.7 L400.1,32.3 L399.1,33.0 L398.2,33.7 L397.4,34.6 L396.7,35.4 L396.1,36.4 L395.5,37.4 L395.1,38.5 L394.8,39.7 L394.6,41.0 L394.7,42.5 Z" fill="#581406"/>
<path d="M397.5,47.9 L398.7,47.0 L399.7,45.9 L400.6,44.7 L401.4,43.5 L402.2,42.3 L403.0,41.1 L403.8,39.9 L404.7,38.7 L405.5,37.5 L406.4,36.4 L407.3,35.2 L408.2,34.1 L409.1,32.9 L409.9,31.8 L409.5,31.4 L408.0,32.1 L406.6,32.9 L405.3,33.7 L404.0,34.6 L402.8,35.5 L401.8,36.5 L400.8,37.5 L399.9,38.7 L399.1,39.9 L398.4,41.2 L397.9,42.6 L397.4,44.1 L397.1,45.7 L397.1,47.5 Z" fill="#581406"/>
<path d="M403.7,51.6 L404.8,50.7 L405.7,49.7 L406.5,48.7 L407.2,47.6 L408.0,46.4 L408.7,45.3 L409.5,44.2 L410.2,43.1 L411.0,42.0 L411.8,41.0 L412.6,39.9 L413.4,38.8 L414.2,37.8 L414.9,36.7 L414.5,36.3 L413.1,37.0 L411.9,37.7 L410.6,38.4 L409.5,39.2 L408.4,40.1 L407.4,41.0 L406.5,42.0 L405.7,43.1 L405.0,44.2 L404.4,45.4 L403.9,46.7 L403.5,48.1 L403.3,49.6 L403.3,51.2 Z" fill="#581406"/>
<path d="M409.9,55.2 L411.0,54.5 L411.8,53.5 L412.5,52.5 L413.2,51.5 L413.8,50.4 L414.5,49.4 L415.1,48.3 L415.8,47.3 L416.5,46.2 L417.2,45.2 L417.9,44.2 L418.6,43.2 L419.3,42.1 L419.9,41.0 L419.5,40.8 L418.2,41.4 L417.0,42.1 L415.9,42.8 L414.8,43.5 L413.8,44.4 L412.9,45.2 L412.1,46.2 L411.4,47.2 L410.8,48.3 L410.3,49.4 L409.9,50.7 L409.5,52.0 L409.4,53.4 L409.5,55.0 Z" fill="#581406"/>
<path d="M414.9,59.0 L415.9,58.2 L416.7,57.2 L417.4,56.1 L418.1,55.0 L418.7,53.9 L419.3,52.8 L420.0,51.7 L420.7,50.6 L421.3,49.5 L422.0,48.4 L422.7,47.4 L423.5,46.3 L424.1,45.2 L424.8,44.1 L424.4,43.9 L423.1,44.6 L421.9,45.3 L420.8,46.1 L419.8,46.9 L418.8,47.8 L417.9,48.7 L417.1,49.7 L416.4,50.8 L415.8,51.9 L415.2,53.1 L414.8,54.4 L414.5,55.7 L414.4,57.2 L414.5,58.8 Z" fill="#581406"/>
<path d="M411.3,56.3 L412.0,55.7 L412.5,55.1 L412.9,54.4 L413.3,53.6 L413.6,52.9 L414.0,52.1 L414.3,51.4 L414.7,50.7 L415.1,49.9 L415.4,49.2 L415.8,48.4 L416.2,47.7 L416.5,47.0 L416.9,46.2 L416.5,46.0 L415.7,46.5 L414.9,47.0 L414.2,47.6 L413.6,48.1 L413.0,48.7 L412.4,49.4 L411.9,50.1 L411.5,50.8 L411.2,51.5 L410.9,52.3 L410.8,53.2 L410.7,54.1 L410.7,55.0 L410.9,56.1 Z" fill="#581406"/>
<path d="M416.9,57.5 L417.7,56.9 L418.4,56.3 L418.9,55.6 L419.5,54.8 L420.0,54.1 L420.5,53.3 L421.1,52.6 L421.6,51.8 L422.1,51.1 L422.7,50.3 L423.2,49.6 L423.7,48.9 L424.3,48.1 L424.8,47.4 L424.4,47.0 L423.5,47.5 L422.5,47.9 L421.7,48.4 L420.8,48.9 L420.1,49.5 L419.4,50.1 L418.7,50.8 L418.2,51.5 L417.7,52.2 L417.2,53.1 L416.9,54.0 L416.6,54.9 L416.5,56.0 L416.5,57.1 Z" fill="#581406"/>
<path d="M419.2,62.0 L420.2,61.3 L421.0,60.5 L421.7,59.6 L422.4,58.7 L423.1,57.8 L423.7,56.9 L424.4,55.9 L425.1,55.0 L425.8,54.1 L426.5,53.2 L427.2,52.4 L427.9,51.5 L428.6,50.6 L429.3,49.7 L428.9,49.3 L427.7,49.8 L426.6,50.4 L425.5,51.0 L424.5,51.6 L423.5,52.3 L422.7,53.0 L421.8,53.8 L421.1,54.7 L420.5,55.7 L419.9,56.7 L419.5,57.8 L419.1,58.9 L418.8,60.2 L418.8,61.6 Z" fill="#581406"/>
<path d="M425.9,65.3 L426.8,64.6 L427.4,63.8 L428.0,62.9 L428.5,62.0 L429.0,61.1 L429.5,60.2 L430.0,59.2 L430.5,58.3 L431.0,57.4 L431.6,56.5 L432.1,55.6 L432.7,54.7 L433.2,53.8 L433.7,52.9 L433.3,52.7 L432.3,53.3 L431.3,53.9 L430.4,54.5 L429.5,55.2 L428.7,56.0 L428.0,56.8 L427.3,57.6 L426.8,58.5 L426.3,59.4 L425.9,60.4 L425.6,61.4 L425.4,62.6 L425.3,63.7 L425.5,65.1 Z" fill="#581406"/>
<path d="M431.5,68.6 L432.4,67.8 L433.0,66.9 L433.5,66.0 L434.0,65.0 L434.5,64.0 L435.0,63.0 L435.5,62.0 L436.1,61.0 L436.6,60.0 L437.1,59.1 L437.7,58.1 L438.3,57.2 L438.8,56.2 L439.3,55.2 L438.9,55.0 L437.9,55.7 L436.8,56.4 L435.9,57.1 L435.0,57.9 L434.2,58.7 L433.5,59.5 L432.8,60.4 L432.3,61.4 L431.8,62.4 L431.4,63.5 L431.2,64.6 L431.0,65.7 L430.9,67.0 L431.1,68.4 Z" fill="#581406"/>
<path d="M434.9,70.9 L435.7,70.3 L436.3,69.6 L436.9,68.8 L437.4,68.0 L438.0,67.1 L438.5,66.3 L439.0,65.5 L439.5,64.6 L440.0,63.8 L440.6,63.0 L441.1,62.2 L441.6,61.4 L442.2,60.6 L442.7,59.7 L442.3,59.5 L441.3,60.0 L440.4,60.5 L439.5,61.1 L438.7,61.7 L437.9,62.3 L437.2,63.0 L436.6,63.8 L436.0,64.6 L435.5,65.4 L435.1,66.3 L434.8,67.3 L434.6,68.3 L434.4,69.4 L434.5,70.7 Z" fill="#581406"/>
<path d="M440.5,70.9 L441.0,70.5 L441.5,70.0 L441.8,69.4 L442.1,68.9 L442.4,68.3 L442.7,67.7 L443.0,67.1 L443.3,66.5 L443.6,65.9 L443.9,65.4 L444.2,64.8 L444.4,64.2 L444.7,63.6 L445.0,63.0 L444.6,62.8 L444.0,63.2 L443.4,63.6 L442.8,64.0 L442.2,64.4 L441.7,64.9 L441.3,65.4 L440.9,65.9 L440.6,66.5 L440.3,67.1 L440.1,67.7 L440.0,68.4 L439.9,69.1 L439.9,69.8 L440.1,70.7 Z" fill="#581406"/>
<path d="M443.8,78.7 L444.7,78.0 L445.4,77.0 L446.0,76.1 L446.6,75.1 L447.2,74.1 L447.8,73.1 L448.4,72.1 L449.0,71.1 L449.6,70.1 L450.3,69.2 L450.9,68.2 L451.6,67.3 L452.2,66.3 L452.8,65.3 L452.4,65.1 L451.3,65.7 L450.2,66.4 L449.2,67.1 L448.2,67.8 L447.3,68.6 L446.5,69.5 L445.8,70.4 L445.2,71.3 L444.6,72.3 L444.1,73.4 L443.8,74.5 L443.5,75.7 L443.3,77.0 L443.4,78.5 Z" fill="#581406"/>
<path d="M451.7,78.7 L452.1,78.2 L452.5,77.7 L452.7,77.2 L453.0,76.6 L453.2,76.0 L453.4,75.5 L453.6,74.9 L453.8,74.3 L454.0,73.7 L454.2,73.2 L454.4,72.6 L454.6,72.0 L454.8,71.4 L455.0,70.9 L454.6,70.7 L454.1,71.2 L453.5,71.6 L453.1,72.0 L452.6,72.5 L452.2,73.0 L451.8,73.5 L451.5,74.0 L451.3,74.6 L451.1,75.2 L451.0,75.8 L450.9,76.4 L451.0,77.1 L451.1,77.8 L451.3,78.5 Z" fill="#581406"/>
<path d="M452.2,85.1 L452.4,85.0 L452.7,84.9 L452.8,84.8 L453.0,84.6 L453.1,84.4 L453.2,84.3 L453.3,84.1 L453.3,83.9 L453.4,83.7 L453.5,83.5 L453.5,83.2 L453.6,83.0 L453.6,82.8 L453.7,82.6 L453.3,82.4 L453.1,82.5 L452.8,82.6 L452.6,82.7 L452.4,82.8 L452.2,82.9 L452.0,83.1 L451.9,83.2 L451.7,83.4 L451.6,83.6 L451.6,83.8 L451.6,84.0 L451.6,84.3 L451.7,84.6 L451.8,84.9 Z" fill="#581406"/>
</g></g>
<rect x="374.6" y="69.3" width="45.6" height="22.0" fill="#fff"/><text x="397.6" y="78.9" font-family="Liberation Serif, serif" font-size="8.3" text-anchor="middle" fill="#262626" stroke="#262626" stroke-width="0.22">100nm</text><text x="397.6" y="88.2" font-family="Liberation Serif, serif" font-size="8.3" text-anchor="middle" fill="#262626" stroke="#262626" stroke-width="0.22">removed</text>
<g clip-path="url(#c3)"><g filter="url(#bl1)">
<rect x="458" y="6" width="86" height="88" fill="url(#g3)"/>
<path d="M465,6 L546,6 L546,64 L536,63 L520,56 L505,48 L490,40 L479,37 L474,30 Z" fill="#dcbe7c" filter="url(#bl2)"/>
<clipPath id="s3"><path d="M465,6 L546,6 L546,64 L536,63 L520,56 L505,48 L490,40 L479,37 L474,30 Z"/></clipPath>
<g clip-path="url(#s3)"><g filter="url(#bl1b)">
<line x1="478.0" y1="30.0" x2="498.0" y2="4.0" stroke="#ead39c" stroke-width="3.5" opacity="0.6"/>
<line x1="486.0" y1="34.0" x2="506.0" y2="5.0" stroke="#ead39c" stroke-width="3.5" opacity="0.6"/>
<line x1="494.0" y1="38.0" x2="514.0" y2="6.0" stroke="#ead39c" stroke-width="3.5" opacity="0.6"/>
<line x1="502.0" y1="42.0" x2="522.0" y2="7.0" stroke="#ead39c" stroke-width="3.5" opacity="0.6"/>
<line x1="510.0" y1="46.0" x2="530.0" y2="8.0" stroke="#ead39c" stroke-width="3.5" opacity="0.6"/>
<line x1="518.0" y1="50.0" x2="538.0" y2="9.0" stroke="#ead39c" stroke-width="3.5" opacity="0.6"/>
<line x1="526.0" y1="54.0" x2="546.0" y2="10.0" stroke="#ead39c" stroke-width="3.5" opacity="0.6"/>
<line x1="534.0" y1="58.0" x2="554.0" y2="11.0" stroke="#ead39c" stroke-width="3.5" opacity="0.6"/>
<line x1="542.0" y1="62.0" x2="562.0" y2="12.0" stroke="#ead39c" stroke-width="3.5" opacity="0.6"/>
<line x1="524" y1="6" x2="544" y2="42" stroke="#c89a48" stroke-width="1.5" opacity="0.7"/>
</g></g>
<line x1="461" y1="8" x2="461" y2="92" stroke="#d8b870" stroke-width="1.2" opacity="0.7"/>
<path d="M468.9,31.7 L470.6,31.4 L471.6,30.6 L472.5,29.7 L473.2,28.7 L473.8,27.7 L474.4,26.6 L474.9,25.6 L475.4,24.5 L475.9,23.4 L476.3,22.3 L476.8,21.1 L477.2,20.0 L477.5,18.8 L477.6,17.4 L477.2,17.2 L475.5,17.6 L474.2,18.1 L472.9,18.8 L471.8,19.5 L470.8,20.3 L469.9,21.1 L469.1,22.0 L468.4,23.0 L467.9,24.1 L467.5,25.3 L467.3,26.6 L467.3,28.0 L467.5,29.5 L468.5,31.5 Z" fill="#94420e" opacity="0.6"/>
<path d="M483.8,39.1 L485.3,38.9 L486.1,38.2 L486.8,37.5 L487.4,36.7 L488.0,35.9 L488.5,35.0 L488.9,34.1 L489.3,33.2 L489.7,32.3 L490.1,31.4 L490.5,30.4 L490.9,29.5 L491.1,28.5 L491.2,27.3 L490.8,27.1 L489.4,27.4 L488.3,27.8 L487.2,28.3 L486.2,28.9 L485.4,29.5 L484.6,30.2 L483.9,31.0 L483.4,31.8 L482.9,32.7 L482.6,33.7 L482.4,34.7 L482.4,35.9 L482.6,37.2 L483.4,38.9 Z" fill="#94420e" opacity="0.6"/>
<path d="M486.9,44.1 L488.5,43.6 L489.5,42.8 L490.3,41.8 L491.0,40.7 L491.7,39.7 L492.4,38.6 L493.0,37.4 L493.6,36.3 L494.2,35.2 L494.8,34.0 L495.4,32.9 L496.0,31.8 L496.5,30.6 L496.8,29.2 L496.4,29.0 L494.8,29.4 L493.4,30.1 L492.2,30.8 L491.0,31.5 L489.9,32.3 L488.9,33.2 L488.1,34.2 L487.3,35.2 L486.7,36.4 L486.3,37.6 L486.0,38.9 L485.8,40.3 L485.9,41.9 L486.5,43.9 Z" fill="#94420e" opacity="0.6"/>
<path d="M493.1,47.2 L494.7,46.8 L495.7,46.0 L496.5,45.0 L497.2,44.1 L497.9,43.0 L498.6,42.0 L499.2,40.9 L499.8,39.8 L500.4,38.7 L501.0,37.6 L501.6,36.5 L502.2,35.4 L502.7,34.2 L503.0,32.9 L502.6,32.7 L501.0,33.1 L499.7,33.7 L498.4,34.3 L497.2,35.0 L496.2,35.8 L495.2,36.6 L494.4,37.5 L493.6,38.5 L493.0,39.6 L492.5,40.8 L492.2,42.1 L492.0,43.5 L492.1,45.0 L492.7,47.0 Z" fill="#94420e" opacity="0.6"/>
<path d="M498.0,51.6 L499.5,51.3 L500.5,50.6 L501.4,49.7 L502.2,48.8 L502.9,47.9 L503.5,46.9 L504.2,45.9 L504.8,44.9 L505.4,43.9 L506.0,42.9 L506.6,41.9 L507.2,40.9 L507.7,39.8 L508.0,38.6 L507.6,38.2 L506.1,38.5 L504.7,39.0 L503.5,39.5 L502.4,40.1 L501.3,40.8 L500.3,41.5 L499.5,42.4 L498.8,43.3 L498.1,44.3 L497.6,45.4 L497.3,46.6 L497.1,47.9 L497.1,49.4 L497.6,51.2 Z" fill="#94420e" opacity="0.6"/>
<path d="M503.6,53.1 L505.0,52.8 L505.9,52.2 L506.6,51.4 L507.2,50.6 L507.7,49.7 L508.2,48.9 L508.7,48.0 L509.2,47.0 L509.6,46.1 L510.0,45.2 L510.4,44.2 L510.8,43.3 L511.1,42.3 L511.2,41.1 L510.8,40.9 L509.4,41.2 L508.3,41.7 L507.2,42.2 L506.2,42.8 L505.4,43.4 L504.6,44.1 L503.9,44.9 L503.3,45.7 L502.9,46.7 L502.5,47.7 L502.3,48.7 L502.3,49.9 L502.5,51.2 L503.2,52.9 Z" fill="#94420e" opacity="0.6"/>
<path d="M508.2,56.3 L509.6,56.0 L510.5,55.4 L511.3,54.6 L511.9,53.8 L512.5,52.9 L513.0,52.0 L513.5,51.1 L514.0,50.2 L514.5,49.3 L514.9,48.3 L515.4,47.4 L515.8,46.4 L516.1,45.4 L516.3,44.2 L515.9,44.0 L514.5,44.3 L513.3,44.7 L512.2,45.3 L511.2,45.8 L510.3,46.5 L509.5,47.2 L508.8,48.0 L508.2,48.8 L507.7,49.7 L507.3,50.7 L507.1,51.8 L507.0,53.0 L507.1,54.4 L507.8,56.1 Z" fill="#94420e" opacity="0.6"/>
<path d="M514.3,59.3 L515.7,59.1 L516.5,58.6 L517.3,57.9 L517.9,57.2 L518.5,56.4 L519.0,55.6 L519.5,54.7 L520.0,53.9 L520.5,53.0 L520.9,52.1 L521.3,51.3 L521.8,50.4 L522.1,49.4 L522.3,48.3 L521.9,48.1 L520.6,48.3 L519.4,48.7 L518.4,49.1 L517.4,49.6 L516.5,50.2 L515.7,50.8 L515.0,51.5 L514.4,52.2 L514.0,53.1 L513.6,54.0 L513.3,55.0 L513.2,56.2 L513.3,57.4 L513.9,59.1 Z" fill="#94420e" opacity="0.6"/>
<path d="M520.3,62.3 L521.6,62.2 L522.4,61.7 L523.1,61.1 L523.6,60.4 L524.1,59.7 L524.6,59.0 L525.0,58.2 L525.4,57.4 L525.8,56.6 L526.2,55.8 L526.6,55.0 L526.9,54.2 L527.2,53.3 L527.3,52.3 L526.9,52.1 L525.7,52.3 L524.6,52.6 L523.7,53.0 L522.8,53.5 L522.0,54.0 L521.3,54.5 L520.7,55.1 L520.1,55.8 L519.7,56.6 L519.4,57.5 L519.2,58.4 L519.1,59.4 L519.3,60.6 L519.9,62.1 Z" fill="#94420e" opacity="0.6"/>
<path d="M523.3,65.3 L524.6,65.2 L525.3,64.6 L526.0,64.0 L526.6,63.4 L527.1,62.7 L527.5,61.9 L528.0,61.2 L528.4,60.4 L528.8,59.6 L529.2,58.8 L529.5,58.0 L529.9,57.2 L530.2,56.3 L530.3,55.3 L529.9,55.1 L528.7,55.3 L527.7,55.6 L526.7,56.0 L525.9,56.5 L525.1,57.0 L524.4,57.6 L523.7,58.2 L523.2,58.9 L522.8,59.7 L522.5,60.5 L522.3,61.4 L522.2,62.4 L522.3,63.6 L522.9,65.1 Z" fill="#94420e" opacity="0.6"/>
<path d="M532.3,73.4 L533.7,73.0 L534.6,72.3 L535.4,71.4 L536.0,70.5 L536.6,69.6 L537.1,68.6 L537.6,67.6 L538.1,66.6 L538.5,65.6 L539.0,64.6 L539.5,63.6 L539.9,62.6 L540.2,61.5 L540.4,60.3 L540.0,60.1 L538.6,60.5 L537.4,61.0 L536.2,61.6 L535.2,62.3 L534.3,63.0 L533.5,63.8 L532.7,64.6 L532.1,65.6 L531.7,66.6 L531.3,67.6 L531.1,68.8 L531.0,70.0 L531.2,71.4 L531.9,73.2 Z" fill="#94420e" opacity="0.6"/>
<path d="M477.2,27.1 L477.9,27.4 L478.2,27.5 L478.5,27.5 L478.7,27.5 L478.8,27.4 L478.9,27.3 L478.9,27.2 L478.9,27.0 L478.9,26.9 L478.8,26.7 L478.7,26.4 L478.6,26.2 L478.4,25.9 L478.2,25.6 L477.8,25.4 L477.4,25.2 L477.0,25.2 L476.7,25.1 L476.4,25.1 L476.2,25.1 L476.0,25.1 L475.9,25.2 L475.8,25.2 L475.7,25.4 L475.7,25.5 L475.8,25.7 L476.0,26.0 L476.2,26.3 L476.8,26.9 Z" fill="#94420e" opacity="0.6"/>
<path d="M468.9,31.7 L470.1,31.1 L470.9,30.2 L471.6,29.2 L472.2,28.2 L472.8,27.1 L473.4,26.1 L473.9,25.0 L474.5,23.9 L475.0,22.9 L475.6,21.8 L476.2,20.7 L476.7,19.7 L477.2,18.6 L477.6,17.4 L477.2,17.2 L475.9,17.8 L474.7,18.4 L473.6,19.2 L472.5,19.9 L471.6,20.8 L470.8,21.7 L470.0,22.6 L469.4,23.6 L468.9,24.7 L468.4,25.8 L468.2,27.1 L468.0,28.4 L468.0,29.8 L468.5,31.5 Z" fill="#4a0e04"/>
<path d="M483.8,39.1 L484.8,38.6 L485.4,37.8 L486.0,37.0 L486.5,36.1 L487.0,35.3 L487.5,34.4 L488.0,33.5 L488.4,32.6 L488.9,31.8 L489.4,30.9 L489.9,30.0 L490.4,29.2 L490.8,28.3 L491.2,27.3 L490.8,27.1 L489.7,27.6 L488.7,28.1 L487.8,28.7 L487.0,29.4 L486.2,30.1 L485.5,30.8 L484.9,31.6 L484.3,32.4 L483.9,33.3 L483.5,34.2 L483.3,35.3 L483.1,36.3 L483.1,37.5 L483.4,38.9 Z" fill="#4a0e04"/>
<path d="M486.9,44.1 L488.0,43.3 L488.8,42.3 L489.5,41.2 L490.1,40.1 L490.8,39.0 L491.4,37.9 L492.1,36.8 L492.7,35.7 L493.4,34.6 L494.1,33.6 L494.8,32.5 L495.5,31.4 L496.2,30.3 L496.8,29.2 L496.4,29.0 L495.1,29.6 L493.9,30.4 L492.8,31.2 L491.7,32.0 L490.7,32.9 L489.8,33.8 L489.0,34.8 L488.3,35.9 L487.7,37.0 L487.2,38.2 L486.8,39.4 L486.5,40.8 L486.3,42.2 L486.5,43.9 Z" fill="#4a0e04"/>
<path d="M493.1,47.2 L494.2,46.5 L495.0,45.5 L495.7,44.5 L496.4,43.4 L497.0,42.4 L497.6,41.3 L498.3,40.3 L499.0,39.2 L499.6,38.2 L500.3,37.1 L501.0,36.1 L501.7,35.1 L502.4,34.0 L503.0,32.9 L502.6,32.7 L501.3,33.3 L500.1,34.0 L499.0,34.7 L498.0,35.5 L497.0,36.3 L496.1,37.2 L495.3,38.2 L494.6,39.2 L493.9,40.3 L493.4,41.4 L493.0,42.6 L492.7,44.0 L492.6,45.4 L492.7,47.0 Z" fill="#4a0e04"/>
<path d="M498.0,51.6 L499.1,50.9 L499.9,50.1 L500.6,49.1 L501.3,48.2 L502.0,47.2 L502.6,46.2 L503.3,45.3 L504.0,44.3 L504.6,43.4 L505.3,42.4 L506.0,41.5 L506.7,40.5 L507.4,39.5 L508.0,38.6 L507.6,38.2 L506.4,38.8 L505.2,39.3 L504.1,40.0 L503.0,40.7 L502.1,41.4 L501.2,42.2 L500.4,43.0 L499.6,44.0 L499.0,44.9 L498.5,46.0 L498.0,47.2 L497.7,48.4 L497.5,49.7 L497.6,51.2 Z" fill="#4a0e04"/>
<path d="M503.6,53.1 L504.5,52.5 L505.2,51.7 L505.8,50.9 L506.3,50.0 L506.8,49.1 L507.3,48.3 L507.8,47.4 L508.3,46.5 L508.8,45.6 L509.3,44.7 L509.8,43.8 L510.3,43.0 L510.8,42.1 L511.2,41.1 L510.8,40.9 L509.7,41.4 L508.8,42.0 L507.8,42.6 L507.0,43.3 L506.2,44.0 L505.5,44.7 L504.8,45.5 L504.3,46.3 L503.8,47.3 L503.4,48.2 L503.2,49.2 L503.0,50.3 L503.0,51.5 L503.2,52.9 Z" fill="#4a0e04"/>
<path d="M508.2,56.3 L509.1,55.7 L509.8,54.9 L510.5,54.1 L511.0,53.2 L511.5,52.3 L512.1,51.4 L512.6,50.5 L513.1,49.6 L513.7,48.7 L514.2,47.8 L514.8,47.0 L515.3,46.1 L515.8,45.2 L516.3,44.2 L515.9,44.0 L514.8,44.5 L513.8,45.1 L512.8,45.7 L511.9,46.3 L511.1,47.0 L510.4,47.8 L509.7,48.6 L509.1,49.4 L508.6,50.3 L508.2,51.3 L507.9,52.4 L507.7,53.5 L507.6,54.7 L507.8,56.1 Z" fill="#4a0e04"/>
<path d="M514.3,59.3 L515.2,58.8 L515.9,58.1 L516.5,57.3 L517.0,56.5 L517.6,55.7 L518.1,54.9 L518.6,54.1 L519.1,53.3 L519.7,52.4 L520.2,51.6 L520.8,50.8 L521.3,50.0 L521.8,49.2 L522.3,48.3 L521.9,48.1 L520.9,48.5 L519.9,49.0 L519.0,49.5 L518.1,50.1 L517.3,50.7 L516.6,51.4 L515.9,52.1 L515.4,52.9 L514.9,53.7 L514.4,54.6 L514.1,55.6 L513.9,56.6 L513.8,57.8 L513.9,59.1 Z" fill="#4a0e04"/>
<path d="M520.3,62.3 L521.1,61.8 L521.7,61.2 L522.3,60.5 L522.8,59.8 L523.2,59.1 L523.7,58.3 L524.1,57.6 L524.6,56.8 L525.0,56.1 L525.5,55.3 L526.0,54.6 L526.4,53.9 L526.9,53.1 L527.3,52.3 L526.9,52.1 L526.0,52.5 L525.1,52.9 L524.3,53.4 L523.5,53.9 L522.8,54.5 L522.2,55.1 L521.6,55.8 L521.1,56.5 L520.6,57.2 L520.3,58.1 L520.0,58.9 L519.8,59.9 L519.8,60.9 L519.9,62.1 Z" fill="#4a0e04"/>
<path d="M523.3,65.3 L524.1,64.8 L524.7,64.2 L525.2,63.5 L525.7,62.7 L526.1,62.0 L526.6,61.3 L527.1,60.5 L527.5,59.8 L528.0,59.0 L528.5,58.3 L528.9,57.6 L529.4,56.8 L529.8,56.1 L530.3,55.3 L529.9,55.1 L529.0,55.5 L528.1,56.0 L527.3,56.5 L526.6,57.0 L525.9,57.6 L525.2,58.2 L524.6,58.8 L524.1,59.5 L523.7,60.3 L523.3,61.1 L523.1,62.0 L522.9,62.9 L522.8,63.9 L522.9,65.1 Z" fill="#4a0e04"/>
<path d="M532.3,73.4 L533.2,72.7 L533.9,71.8 L534.5,70.9 L535.1,70.0 L535.6,69.0 L536.1,68.0 L536.7,67.1 L537.2,66.1 L537.7,65.1 L538.3,64.2 L538.8,63.2 L539.4,62.3 L539.9,61.3 L540.4,60.3 L540.0,60.1 L538.9,60.7 L537.8,61.3 L536.9,62.0 L536.0,62.8 L535.1,63.5 L534.4,64.3 L533.7,65.2 L533.1,66.2 L532.6,67.1 L532.2,68.2 L531.9,69.3 L531.7,70.5 L531.7,71.7 L531.9,73.2 Z" fill="#4a0e04"/>
<path d="M477.2,27.1 L477.4,27.1 L477.6,27.1 L477.7,27.0 L477.8,26.9 L477.9,26.8 L477.9,26.7 L478.0,26.6 L478.0,26.5 L478.1,26.3 L478.1,26.2 L478.1,26.0 L478.1,25.9 L478.1,25.7 L478.2,25.6 L477.8,25.4 L477.7,25.5 L477.5,25.5 L477.3,25.5 L477.1,25.6 L477.0,25.6 L476.9,25.7 L476.8,25.8 L476.7,25.9 L476.6,26.0 L476.6,26.1 L476.6,26.3 L476.6,26.4 L476.7,26.7 L476.8,26.9 Z" fill="#4a0e04"/>
<ellipse cx="534.2" cy="44.1" rx="0.9" ry="1.2" fill="#fff"/>
</g></g>
<rect x="459.1" y="70.5" width="45.8" height="20.5" fill="#fff"/><text x="482.3" y="79.9" font-family="Liberation Serif, serif" font-size="8.3" text-anchor="middle" fill="#262626" stroke="#262626" stroke-width="0.22">200nm</text><text x="482.3" y="89.0" font-family="Liberation Serif, serif" font-size="8.3" text-anchor="middle" fill="#262626" stroke="#262626" stroke-width="0.22">removed</text>
<g clip-path="url(#c4)"><g filter="url(#bl1)">
<rect x="329" y="90" width="88" height="88" fill="url(#g4)"/>
<path d="M331,104 C345,106 360,110 380,112 L415,118 L415,128 C395,124 370,120 350,118 L331,116 Z" fill="#e8c27c" opacity="0.7" filter="url(#bl2)"/>
<path d="M331,100 C350,100 380,104 415,108 L415,112 C380,110 350,106 331,104 Z" fill="#9a5410" opacity="0.6" filter="url(#bl2)"/>
<path d="M380,118 L415,112 L415,130 L395,128 Z" fill="#dca050" opacity="0.6" filter="url(#bl2)"/>
<path d="M331,92 L372,92 L415,100 L415,104 L372,97 L331,97 Z" fill="#c88a3a" opacity="0.6" filter="url(#bl2)"/>
<path d="M331,128 C350,132 365,140 380,150 L372,152 C360,145 345,138 331,136 Z" fill="#dcae6a" opacity="0.5" filter="url(#bl2)"/>
<path d="M331,125 C350,130 370,140 400,150 L415,160 L415,175 L331,175 Z" fill="#c07a28" opacity="0.5" filter="url(#bl3)"/>
<path d="M351.2,123.7 L353.0,123.6 L354.0,123.0 L354.8,122.2 L355.5,121.5 L356.1,120.7 L356.7,119.8 L357.3,118.9 L357.7,118.0 L358.1,117.0 L358.5,116.1 L358.8,115.0 L359.0,114.0 L359.1,112.8 L358.6,111.3 L358.2,111.1 L356.9,111.5 L356.2,112.3 L355.6,113.1 L355.1,114.0 L354.5,114.9 L353.9,115.7 L353.4,116.6 L352.8,117.5 L352.3,118.3 L351.7,119.2 L351.2,120.1 L350.7,121.0 L350.3,122.0 L350.8,123.5 Z" fill="#ecd39c"/>
<path d="M366.1,129.9 L367.5,129.9 L368.1,129.4 L368.7,128.9 L369.2,128.4 L369.6,127.8 L370.0,127.2 L370.4,126.6 L370.7,126.0 L370.9,125.3 L371.2,124.6 L371.3,123.9 L371.4,123.1 L371.5,122.3 L371.0,121.2 L370.6,121.0 L369.6,121.3 L369.1,121.8 L368.7,122.4 L368.3,123.0 L367.9,123.6 L367.6,124.2 L367.2,124.8 L366.8,125.4 L366.4,126.0 L366.1,126.6 L365.7,127.3 L365.4,127.9 L365.2,128.6 L365.7,129.7 Z" fill="#ecd39c"/>
<path d="M369.6,134.7 L371.1,134.3 L371.9,133.5 L372.5,132.7 L373.1,131.9 L373.5,131.1 L374.0,130.2 L374.3,129.3 L374.6,128.4 L374.9,127.5 L375.0,126.5 L375.2,125.5 L375.2,124.5 L375.2,123.5 L374.6,122.2 L374.2,122.0 L373.2,122.6 L372.7,123.5 L372.3,124.4 L371.9,125.2 L371.5,126.1 L371.1,127.0 L370.7,127.9 L370.4,128.8 L370.0,129.6 L369.6,130.5 L369.2,131.4 L368.9,132.3 L368.6,133.3 L369.2,134.5 Z" fill="#ecd39c"/>
<path d="M375.8,137.4 L377.4,136.9 L378.2,136.1 L378.8,135.3 L379.4,134.4 L379.9,133.5 L380.4,132.5 L380.8,131.6 L381.1,130.6 L381.4,129.6 L381.6,128.6 L381.7,127.5 L381.8,126.4 L381.8,125.3 L381.2,124.0 L380.8,123.8 L379.7,124.5 L379.2,125.4 L378.8,126.4 L378.4,127.3 L378.0,128.3 L377.6,129.2 L377.2,130.2 L376.8,131.1 L376.3,132.0 L375.9,133.0 L375.5,133.9 L375.2,134.9 L374.9,135.9 L375.4,137.2 Z" fill="#ecd39c"/>
<path d="M381.2,139.2 L382.7,138.6 L383.4,137.8 L384.0,136.9 L384.5,136.0 L385.0,135.1 L385.3,134.1 L385.7,133.2 L385.9,132.2 L386.1,131.2 L386.3,130.1 L386.4,129.1 L386.4,128.0 L386.3,127.0 L385.7,125.7 L385.3,125.5 L384.3,126.3 L383.9,127.2 L383.5,128.2 L383.2,129.1 L382.9,130.1 L382.5,131.0 L382.2,132.0 L381.8,132.9 L381.5,133.9 L381.1,134.9 L380.8,135.8 L380.5,136.8 L380.3,137.8 L380.8,139.0 Z" fill="#ecd39c"/>
<path d="M385.7,141.8 L387.2,141.4 L388.0,140.6 L388.6,139.9 L389.2,139.1 L389.7,138.2 L390.1,137.3 L390.5,136.5 L390.8,135.5 L391.1,134.6 L391.3,133.6 L391.5,132.6 L391.6,131.6 L391.6,130.6 L391.1,129.3 L390.7,129.1 L389.7,129.7 L389.2,130.6 L388.8,131.5 L388.3,132.3 L387.9,133.2 L387.5,134.1 L387.1,135.0 L386.7,135.9 L386.3,136.7 L385.9,137.6 L385.5,138.5 L385.1,139.4 L384.8,140.4 L385.3,141.6 Z" fill="#ecd39c"/>
<path d="M391.1,146.3 L392.6,145.8 L393.4,145.0 L394.0,144.1 L394.6,143.2 L395.1,142.3 L395.6,141.4 L395.9,140.4 L396.3,139.5 L396.5,138.5 L396.7,137.4 L396.9,136.4 L397.0,135.3 L397.0,134.2 L396.4,132.9 L396.0,132.7 L395.0,133.4 L394.5,134.3 L394.1,135.3 L393.7,136.2 L393.3,137.2 L392.9,138.1 L392.5,139.1 L392.1,140.0 L391.7,141.0 L391.3,141.9 L390.9,142.9 L390.5,143.8 L390.2,144.8 L390.7,146.1 Z" fill="#ecd39c"/>
<path d="M396.4,149.0 L397.8,148.5 L398.5,147.7 L399.1,146.9 L399.6,146.1 L400.0,145.2 L400.4,144.4 L400.7,143.5 L401.0,142.6 L401.2,141.6 L401.4,140.7 L401.5,139.7 L401.5,138.7 L401.5,137.7 L400.9,136.5 L400.5,136.3 L399.6,137.0 L399.1,137.9 L398.8,138.7 L398.4,139.6 L398.1,140.5 L397.8,141.4 L397.4,142.3 L397.1,143.2 L396.7,144.0 L396.4,144.9 L396.0,145.8 L395.7,146.7 L395.5,147.6 L396.0,148.8 Z" fill="#ecd39c"/>
<path d="M400.9,152.6 L402.3,152.2 L403.1,151.6 L403.7,150.9 L404.2,150.1 L404.7,149.3 L405.2,148.5 L405.6,147.7 L405.9,146.9 L406.2,146.0 L406.4,145.1 L406.6,144.2 L406.7,143.2 L406.8,142.2 L406.3,141.0 L405.9,140.8 L404.9,141.4 L404.4,142.1 L404.0,143.0 L403.6,143.8 L403.2,144.6 L402.8,145.4 L402.4,146.2 L402.0,147.0 L401.6,147.9 L401.1,148.7 L400.7,149.5 L400.4,150.3 L400.1,151.2 L400.5,152.4 Z" fill="#ecd39c"/>
<path d="M405.4,154.4 L406.7,154.0 L407.4,153.4 L407.9,152.7 L408.4,152.0 L408.8,151.3 L409.2,150.5 L409.5,149.8 L409.8,149.0 L410.0,148.1 L410.1,147.3 L410.3,146.5 L410.3,145.6 L410.3,144.7 L409.8,143.6 L409.4,143.4 L408.5,144.0 L408.1,144.7 L407.7,145.4 L407.4,146.2 L407.1,147.0 L406.7,147.7 L406.4,148.5 L406.0,149.2 L405.7,150.0 L405.4,150.8 L405.0,151.5 L404.8,152.3 L404.6,153.1 L405.0,154.2 Z" fill="#ecd39c"/>
<path d="M409.8,156.2 L411.0,155.9 L411.6,155.4 L412.0,154.8 L412.4,154.2 L412.8,153.6 L413.1,153.0 L413.3,152.4 L413.5,151.7 L413.7,151.0 L413.8,150.3 L413.9,149.6 L413.9,148.9 L413.9,148.1 L413.4,147.2 L413.0,147.0 L412.2,147.4 L411.8,148.0 L411.5,148.7 L411.2,149.3 L410.9,149.9 L410.7,150.6 L410.4,151.2 L410.1,151.8 L409.8,152.5 L409.5,153.1 L409.3,153.7 L409.1,154.4 L408.9,155.1 L409.4,156.0 Z" fill="#ecd39c"/>
<path d="M413.4,166.9 L414.7,166.4 L415.3,165.8 L415.8,165.1 L416.2,164.4 L416.6,163.7 L416.9,162.9 L417.1,162.2 L417.3,161.4 L417.5,160.6 L417.6,159.8 L417.7,158.9 L417.7,158.1 L417.6,157.2 L417.0,156.2 L416.6,156.0 L415.7,156.6 L415.4,157.3 L415.1,158.1 L414.8,158.8 L414.5,159.6 L414.2,160.3 L413.9,161.1 L413.7,161.9 L413.4,162.6 L413.1,163.4 L412.8,164.1 L412.6,164.9 L412.5,165.7 L413.0,166.7 Z" fill="#ecd39c"/>
<path d="M348.6,123.1 L350.4,123.0 L351.4,122.4 L352.2,121.6 L352.9,120.9 L353.5,120.1 L354.1,119.2 L354.7,118.3 L355.1,117.4 L355.5,116.4 L355.9,115.5 L356.2,114.4 L356.4,113.4 L356.5,112.2 L356.0,110.7 L355.6,110.5 L354.3,110.9 L353.6,111.7 L353.0,112.5 L352.5,113.4 L351.9,114.3 L351.3,115.1 L350.8,116.0 L350.2,116.9 L349.7,117.7 L349.1,118.6 L348.6,119.5 L348.1,120.4 L347.7,121.4 L348.2,122.9 Z" fill="#6a2808" opacity="0.6"/>
<path d="M363.5,129.3 L364.9,129.3 L365.5,128.8 L366.1,128.3 L366.6,127.8 L367.0,127.2 L367.4,126.6 L367.8,126.0 L368.1,125.4 L368.3,124.7 L368.6,124.0 L368.7,123.3 L368.8,122.5 L368.9,121.7 L368.4,120.6 L368.0,120.4 L367.0,120.7 L366.5,121.2 L366.1,121.8 L365.7,122.4 L365.3,123.0 L365.0,123.6 L364.6,124.2 L364.2,124.8 L363.8,125.4 L363.5,126.0 L363.1,126.7 L362.8,127.3 L362.6,128.0 L363.1,129.1 Z" fill="#6a2808" opacity="0.6"/>
<path d="M367.0,134.1 L368.5,133.7 L369.3,132.9 L369.9,132.1 L370.5,131.3 L370.9,130.5 L371.4,129.6 L371.7,128.7 L372.0,127.8 L372.3,126.9 L372.4,125.9 L372.6,124.9 L372.6,123.9 L372.6,122.9 L372.0,121.6 L371.6,121.4 L370.6,122.0 L370.1,122.9 L369.7,123.8 L369.3,124.6 L368.9,125.5 L368.5,126.4 L368.1,127.3 L367.8,128.2 L367.4,129.0 L367.0,129.9 L366.6,130.8 L366.3,131.7 L366.0,132.7 L366.6,133.9 Z" fill="#6a2808" opacity="0.6"/>
<path d="M373.2,136.8 L374.8,136.3 L375.6,135.5 L376.2,134.7 L376.8,133.8 L377.3,132.9 L377.8,131.9 L378.2,131.0 L378.5,130.0 L378.8,129.0 L379.0,128.0 L379.1,126.9 L379.2,125.8 L379.2,124.7 L378.6,123.4 L378.2,123.2 L377.1,123.9 L376.6,124.8 L376.2,125.8 L375.8,126.7 L375.4,127.7 L375.0,128.6 L374.6,129.6 L374.2,130.5 L373.7,131.4 L373.3,132.4 L372.9,133.3 L372.6,134.3 L372.3,135.3 L372.8,136.6 Z" fill="#6a2808" opacity="0.6"/>
<path d="M378.6,138.6 L380.1,138.0 L380.8,137.2 L381.4,136.3 L381.9,135.4 L382.4,134.5 L382.7,133.5 L383.1,132.6 L383.3,131.6 L383.5,130.6 L383.7,129.5 L383.8,128.5 L383.8,127.4 L383.7,126.4 L383.1,125.1 L382.7,124.9 L381.7,125.7 L381.3,126.6 L380.9,127.6 L380.6,128.5 L380.3,129.5 L379.9,130.4 L379.6,131.4 L379.2,132.3 L378.9,133.3 L378.5,134.3 L378.2,135.2 L377.9,136.2 L377.7,137.2 L378.2,138.4 Z" fill="#6a2808" opacity="0.6"/>
<path d="M383.1,141.2 L384.6,140.8 L385.4,140.0 L386.0,139.3 L386.6,138.5 L387.1,137.6 L387.5,136.7 L387.9,135.9 L388.2,134.9 L388.5,134.0 L388.7,133.0 L388.9,132.0 L389.0,131.0 L389.0,130.0 L388.5,128.7 L388.1,128.5 L387.1,129.1 L386.6,130.0 L386.2,130.9 L385.7,131.7 L385.3,132.6 L384.9,133.5 L384.5,134.4 L384.1,135.3 L383.7,136.1 L383.3,137.0 L382.9,137.9 L382.5,138.8 L382.2,139.8 L382.7,141.0 Z" fill="#6a2808" opacity="0.6"/>
<path d="M388.5,145.7 L390.0,145.2 L390.8,144.4 L391.4,143.5 L392.0,142.6 L392.5,141.7 L393.0,140.8 L393.3,139.8 L393.7,138.9 L393.9,137.9 L394.1,136.8 L394.3,135.8 L394.4,134.7 L394.4,133.6 L393.8,132.3 L393.4,132.1 L392.4,132.8 L391.9,133.7 L391.5,134.7 L391.1,135.6 L390.7,136.6 L390.3,137.5 L389.9,138.5 L389.5,139.4 L389.1,140.4 L388.7,141.3 L388.3,142.3 L387.9,143.2 L387.6,144.2 L388.1,145.5 Z" fill="#6a2808" opacity="0.6"/>
<path d="M393.8,148.4 L395.2,147.9 L395.9,147.1 L396.5,146.3 L397.0,145.5 L397.4,144.6 L397.8,143.8 L398.1,142.9 L398.4,142.0 L398.6,141.0 L398.8,140.1 L398.9,139.1 L398.9,138.1 L398.9,137.1 L398.3,135.9 L397.9,135.7 L397.0,136.4 L396.5,137.3 L396.2,138.1 L395.8,139.0 L395.5,139.9 L395.2,140.8 L394.8,141.7 L394.5,142.6 L394.1,143.4 L393.8,144.3 L393.4,145.2 L393.1,146.1 L392.9,147.0 L393.4,148.2 Z" fill="#6a2808" opacity="0.6"/>
<path d="M398.3,152.0 L399.7,151.6 L400.5,151.0 L401.1,150.3 L401.6,149.5 L402.1,148.7 L402.6,147.9 L403.0,147.1 L403.3,146.3 L403.6,145.4 L403.8,144.5 L404.0,143.6 L404.1,142.6 L404.2,141.6 L403.7,140.4 L403.3,140.2 L402.3,140.8 L401.8,141.5 L401.4,142.4 L401.0,143.2 L400.6,144.0 L400.2,144.8 L399.8,145.6 L399.4,146.4 L399.0,147.3 L398.5,148.1 L398.1,148.9 L397.8,149.7 L397.5,150.6 L397.9,151.8 Z" fill="#6a2808" opacity="0.6"/>
<path d="M402.8,153.8 L404.1,153.4 L404.8,152.8 L405.3,152.1 L405.8,151.4 L406.2,150.7 L406.6,149.9 L406.9,149.2 L407.2,148.4 L407.4,147.5 L407.5,146.7 L407.7,145.9 L407.7,145.0 L407.7,144.1 L407.2,143.0 L406.8,142.8 L405.9,143.4 L405.5,144.1 L405.1,144.8 L404.8,145.6 L404.5,146.4 L404.1,147.1 L403.8,147.9 L403.4,148.6 L403.1,149.4 L402.8,150.2 L402.4,150.9 L402.2,151.7 L402.0,152.5 L402.4,153.6 Z" fill="#6a2808" opacity="0.6"/>
<path d="M407.2,155.6 L408.4,155.3 L409.0,154.8 L409.4,154.2 L409.8,153.6 L410.2,153.0 L410.5,152.4 L410.7,151.8 L410.9,151.1 L411.1,150.4 L411.2,149.7 L411.3,149.0 L411.3,148.3 L411.3,147.5 L410.8,146.6 L410.4,146.4 L409.6,146.8 L409.2,147.4 L408.9,148.1 L408.6,148.7 L408.3,149.3 L408.1,150.0 L407.8,150.6 L407.5,151.2 L407.2,151.9 L406.9,152.5 L406.7,153.1 L406.5,153.8 L406.3,154.5 L406.8,155.4 Z" fill="#6a2808" opacity="0.6"/>
<path d="M410.8,166.3 L412.1,165.8 L412.7,165.2 L413.2,164.5 L413.6,163.8 L414.0,163.1 L414.3,162.3 L414.5,161.6 L414.7,160.8 L414.9,160.0 L415.0,159.2 L415.1,158.3 L415.1,157.5 L415.0,156.6 L414.4,155.6 L414.0,155.4 L413.1,156.0 L412.8,156.7 L412.5,157.5 L412.2,158.2 L411.9,159.0 L411.6,159.7 L411.3,160.5 L411.1,161.3 L410.8,162.0 L410.5,162.8 L410.2,163.5 L410.0,164.3 L409.9,165.1 L410.4,166.1 Z" fill="#6a2808" opacity="0.6"/>
<path d="M348.6,123.1 L350.1,122.8 L351.0,122.1 L351.8,121.4 L352.5,120.6 L353.1,119.8 L353.7,118.9 L354.2,118.1 L354.7,117.1 L355.1,116.2 L355.5,115.2 L355.8,114.2 L356.1,113.2 L356.3,112.1 L356.0,110.7 L355.6,110.5 L354.5,111.1 L353.9,111.9 L353.4,112.8 L352.8,113.6 L352.3,114.5 L351.8,115.4 L351.2,116.3 L350.7,117.1 L350.1,118.0 L349.5,118.9 L349.0,119.8 L348.5,120.6 L348.0,121.6 L348.2,122.9 Z" fill="#260800"/>
<path d="M363.5,129.3 L364.6,129.1 L365.2,128.6 L365.7,128.1 L366.2,127.5 L366.6,127.0 L367.0,126.4 L367.3,125.7 L367.7,125.1 L367.9,124.4 L368.2,123.8 L368.4,123.0 L368.5,122.3 L368.6,121.6 L368.4,120.6 L368.0,120.4 L367.3,120.8 L366.9,121.4 L366.5,122.0 L366.1,122.6 L365.8,123.2 L365.4,123.8 L365.0,124.4 L364.7,125.1 L364.3,125.7 L363.9,126.3 L363.6,126.9 L363.2,127.5 L362.9,128.2 L363.1,129.1 Z" fill="#260800"/>
<path d="M367.0,134.1 L368.2,133.5 L368.9,132.8 L369.5,132.0 L370.0,131.1 L370.5,130.3 L370.9,129.4 L371.2,128.5 L371.5,127.6 L371.8,126.7 L372.0,125.7 L372.2,124.8 L372.3,123.8 L372.3,122.7 L372.0,121.6 L371.6,121.4 L370.8,122.1 L370.4,123.0 L370.1,123.9 L369.7,124.8 L369.4,125.7 L369.0,126.6 L368.6,127.5 L368.2,128.4 L367.8,129.2 L367.4,130.1 L367.1,131.0 L366.7,131.9 L366.4,132.8 L366.6,133.9 Z" fill="#260800"/>
<path d="M373.2,136.8 L374.4,136.2 L375.2,135.3 L375.8,134.5 L376.3,133.6 L376.8,132.7 L377.3,131.8 L377.7,130.8 L378.0,129.8 L378.3,128.8 L378.5,127.8 L378.7,126.8 L378.9,125.7 L378.9,124.6 L378.6,123.4 L378.2,123.2 L377.4,124.0 L377.0,125.0 L376.6,125.9 L376.2,126.9 L375.8,127.8 L375.5,128.8 L375.1,129.7 L374.7,130.7 L374.2,131.6 L373.8,132.6 L373.4,133.5 L373.0,134.5 L372.6,135.4 L372.8,136.6 Z" fill="#260800"/>
<path d="M378.6,138.6 L379.7,137.9 L380.4,137.0 L380.9,136.1 L381.4,135.2 L381.9,134.3 L382.3,133.4 L382.6,132.4 L382.9,131.4 L383.1,130.4 L383.3,129.4 L383.4,128.4 L383.5,127.3 L383.5,126.3 L383.1,125.1 L382.7,124.9 L382.0,125.8 L381.6,126.7 L381.3,127.7 L381.0,128.7 L380.7,129.6 L380.4,130.6 L380.1,131.6 L379.7,132.5 L379.4,133.5 L379.0,134.4 L378.6,135.4 L378.3,136.3 L378.0,137.3 L378.2,138.4 Z" fill="#260800"/>
<path d="M383.1,141.2 L384.3,140.6 L385.0,139.9 L385.6,139.1 L386.1,138.3 L386.6,137.4 L387.0,136.5 L387.4,135.6 L387.8,134.7 L388.1,133.8 L388.3,132.8 L388.5,131.9 L388.7,130.9 L388.8,129.9 L388.5,128.7 L388.1,128.5 L387.4,129.3 L386.9,130.1 L386.5,131.0 L386.2,131.9 L385.8,132.8 L385.4,133.7 L385.0,134.6 L384.6,135.5 L384.2,136.4 L383.7,137.2 L383.3,138.1 L382.9,139.0 L382.6,139.9 L382.7,141.0 Z" fill="#260800"/>
<path d="M388.5,145.7 L389.7,145.0 L390.4,144.2 L391.0,143.3 L391.5,142.5 L392.0,141.5 L392.5,140.6 L392.9,139.7 L393.2,138.7 L393.5,137.7 L393.7,136.7 L393.9,135.6 L394.0,134.6 L394.1,133.5 L393.8,132.3 L393.4,132.1 L392.7,132.9 L392.3,133.9 L391.9,134.8 L391.5,135.8 L391.2,136.8 L390.8,137.7 L390.4,138.7 L390.0,139.6 L389.6,140.6 L389.1,141.5 L388.7,142.4 L388.3,143.4 L388.0,144.4 L388.1,145.5 Z" fill="#260800"/>
<path d="M393.8,148.4 L394.9,147.8 L395.5,147.0 L396.0,146.1 L396.5,145.3 L396.9,144.5 L397.3,143.6 L397.6,142.7 L397.9,141.8 L398.2,140.9 L398.3,139.9 L398.5,139.0 L398.6,138.0 L398.6,137.0 L398.3,135.9 L397.9,135.7 L397.2,136.5 L396.9,137.4 L396.6,138.3 L396.3,139.2 L396.0,140.1 L395.6,141.0 L395.3,141.9 L395.0,142.7 L394.6,143.6 L394.2,144.5 L393.9,145.4 L393.5,146.3 L393.2,147.2 L393.4,148.2 Z" fill="#260800"/>
<path d="M398.3,152.0 L399.4,151.5 L400.1,150.8 L400.7,150.1 L401.2,149.3 L401.7,148.5 L402.1,147.7 L402.5,146.9 L402.9,146.0 L403.2,145.2 L403.4,144.3 L403.6,143.4 L403.8,142.4 L403.9,141.5 L403.7,140.4 L403.3,140.2 L402.6,140.9 L402.2,141.7 L401.8,142.5 L401.4,143.4 L401.0,144.2 L400.7,145.0 L400.3,145.8 L399.8,146.7 L399.4,147.5 L399.0,148.3 L398.6,149.1 L398.2,149.9 L397.8,150.8 L397.9,151.8 Z" fill="#260800"/>
<path d="M402.8,153.8 L403.8,153.3 L404.4,152.6 L404.9,151.9 L405.3,151.2 L405.7,150.5 L406.1,149.7 L406.4,149.0 L406.7,148.2 L406.9,147.4 L407.1,146.5 L407.3,145.7 L407.4,144.9 L407.4,144.0 L407.2,143.0 L406.8,142.8 L406.2,143.5 L405.8,144.2 L405.5,145.0 L405.2,145.8 L404.9,146.5 L404.6,147.3 L404.3,148.1 L403.9,148.8 L403.6,149.6 L403.2,150.4 L402.9,151.1 L402.6,151.9 L402.3,152.7 L402.4,153.6 Z" fill="#260800"/>
<path d="M407.2,155.6 L408.1,155.2 L408.5,154.6 L409.0,154.1 L409.4,153.5 L409.7,152.8 L410.0,152.2 L410.2,151.6 L410.5,150.9 L410.7,150.3 L410.8,149.6 L410.9,148.9 L411.0,148.2 L411.0,147.4 L410.8,146.6 L410.4,146.4 L409.9,147.0 L409.6,147.6 L409.3,148.2 L409.0,148.9 L408.8,149.5 L408.5,150.1 L408.3,150.8 L408.0,151.4 L407.7,152.0 L407.4,152.7 L407.1,153.3 L406.9,154.0 L406.7,154.6 L406.8,155.4 Z" fill="#260800"/>
<path d="M410.8,166.3 L411.7,165.7 L412.3,165.1 L412.7,164.4 L413.1,163.6 L413.5,162.9 L413.8,162.2 L414.0,161.4 L414.3,160.6 L414.4,159.8 L414.6,159.0 L414.7,158.2 L414.7,157.4 L414.7,156.5 L414.4,155.6 L414.0,155.4 L413.4,156.1 L413.1,156.8 L412.9,157.6 L412.6,158.4 L412.4,159.1 L412.1,159.9 L411.8,160.7 L411.6,161.4 L411.3,162.2 L411.0,162.9 L410.7,163.7 L410.4,164.4 L410.2,165.2 L410.4,166.1 Z" fill="#260800"/>
</g></g>
<rect x="331" y="154.5" width="47.5" height="20.7" fill="#fff"/><text x="354.5" y="164.5" font-family="Liberation Serif, serif" font-size="8.3" text-anchor="middle" fill="#262626" stroke="#262626" stroke-width="0.22">300nm</text><text x="354.5" y="173.70000000000002" font-family="Liberation Serif, serif" font-size="8.3" text-anchor="middle" fill="#262626" stroke="#262626" stroke-width="0.22">removed</text>
<g clip-path="url(#c5)"><g filter="url(#bl1)">
<rect x="414" y="90" width="88" height="88" fill="url(#g5)"/>
<rect x="414" y="90" width="90" height="6.5" fill="#4a2206" opacity="0.9" filter="url(#bl1)"/>
<rect x="440" y="90" width="64" height="9" fill="#2e1204" opacity="0.7" filter="url(#bl2)"/>
<path d="M416,99 C440,97 470,98 500,100 L500,103 C470,102 440,101 416,103 Z" fill="#d8a45a" opacity="0.5" filter="url(#bl2)"/>
<path d="M420,104 C445,106 470,115 500,128 L500,140 C470,130 445,124 420,120 Z" fill="#dca250" opacity="0.5" filter="url(#bl2)"/>
<path d="M416,125 C440,128 470,140 500,150 L500,160 C470,150 440,140 416,136 Z" fill="#d29040" opacity="0.45" filter="url(#bl3)"/>
<line x1="417.5" y1="92" x2="417.5" y2="176" stroke="#e0b060" stroke-width="1.2" opacity="0.7"/>
<path d="M427.7,112.8 L430.0,113.0 L430.9,112.5 L431.7,111.9 L432.4,111.2 L433.0,110.5 L433.5,109.7 L433.9,108.9 L434.3,108.1 L434.6,107.2 L434.8,106.3 L435.0,105.3 L435.0,104.3 L435.0,103.2 L433.9,101.6 L433.5,101.4 L431.8,101.5 L431.1,102.1 L430.5,102.9 L429.9,103.6 L429.4,104.4 L428.9,105.1 L428.4,105.9 L427.9,106.7 L427.5,107.5 L427.0,108.3 L426.6,109.1 L426.3,110.0 L426.2,110.9 L427.3,112.6 Z" fill="#f8ecc4"/>
<path d="M436.3,116.5 L438.2,116.5 L439.0,116.0 L439.7,115.4 L440.3,114.8 L440.8,114.1 L441.3,113.3 L441.7,112.6 L442.0,111.8 L442.3,111.0 L442.5,110.1 L442.7,109.2 L442.8,108.3 L442.7,107.3 L441.9,105.9 L441.5,105.7 L440.1,105.9 L439.5,106.6 L439.0,107.3 L438.5,108.0 L438.0,108.7 L437.6,109.4 L437.2,110.2 L436.7,110.9 L436.3,111.7 L435.9,112.4 L435.5,113.2 L435.2,114.0 L435.0,114.9 L435.9,116.3 Z" fill="#f8ecc4"/>
<path d="M444.4,117.7 L446.0,117.8 L446.6,117.4 L447.2,117.0 L447.7,116.5 L448.1,116.0 L448.5,115.4 L448.8,114.8 L449.0,114.2 L449.2,113.6 L449.4,112.9 L449.5,112.2 L449.5,111.5 L449.5,110.7 L448.8,109.6 L448.4,109.4 L447.2,109.5 L446.7,110.0 L446.3,110.5 L445.9,111.0 L445.6,111.6 L445.2,112.1 L444.8,112.7 L444.5,113.3 L444.2,113.8 L443.9,114.4 L443.6,115.0 L443.4,115.6 L443.2,116.3 L444.0,117.5 Z" fill="#f8ecc4"/>
<path d="M448.8,122.7 L450.7,122.6 L451.5,122.0 L452.2,121.4 L452.8,120.7 L453.3,119.9 L453.7,119.2 L454.1,118.4 L454.4,117.5 L454.7,116.7 L454.9,115.8 L455.1,114.9 L455.1,113.9 L455.1,112.9 L454.3,111.5 L453.9,111.3 L452.6,111.6 L452.0,112.3 L451.5,113.1 L451.0,113.9 L450.6,114.6 L450.1,115.4 L449.7,116.2 L449.3,117.0 L448.9,117.8 L448.5,118.6 L448.1,119.4 L447.8,120.2 L447.6,121.1 L448.4,122.5 Z" fill="#f8ecc4"/>
<path d="M455.0,125.2 L456.8,125.2 L457.6,124.6 L458.2,124.0 L458.8,123.3 L459.3,122.6 L459.8,121.9 L460.2,121.2 L460.5,120.4 L460.8,119.5 L461.0,118.7 L461.1,117.8 L461.2,116.9 L461.2,115.9 L460.5,114.6 L460.1,114.4 L458.8,114.7 L458.3,115.4 L457.8,116.1 L457.3,116.8 L456.9,117.5 L456.4,118.3 L456.0,119.0 L455.6,119.7 L455.2,120.5 L454.8,121.2 L454.4,122.0 L454.1,122.8 L453.9,123.7 L454.6,125.0 Z" fill="#f8ecc4"/>
<path d="M461.2,127.6 L462.8,127.7 L463.5,127.3 L464.1,126.8 L464.6,126.3 L465.1,125.7 L465.5,125.1 L465.8,124.5 L466.1,123.8 L466.4,123.2 L466.6,122.4 L466.7,121.7 L466.8,120.9 L466.8,120.1 L466.1,118.9 L465.7,118.7 L464.5,118.8 L464.0,119.4 L463.5,119.9 L463.1,120.5 L462.7,121.1 L462.3,121.7 L461.9,122.3 L461.6,122.9 L461.2,123.5 L460.9,124.1 L460.5,124.8 L460.3,125.4 L460.1,126.2 L460.8,127.4 Z" fill="#f8ecc4"/>
<path d="M466.1,130.1 L467.6,130.0 L468.2,129.6 L468.7,129.1 L469.1,128.6 L469.5,128.1 L469.8,127.5 L470.0,126.9 L470.2,126.3 L470.3,125.7 L470.4,125.0 L470.5,124.3 L470.5,123.6 L470.4,122.9 L469.6,121.9 L469.2,121.7 L468.1,121.9 L467.7,122.5 L467.3,123.0 L467.0,123.5 L466.7,124.1 L466.4,124.7 L466.1,125.2 L465.8,125.8 L465.6,126.4 L465.3,127.0 L465.1,127.6 L464.9,128.2 L464.9,128.9 L465.7,129.9 Z" fill="#f8ecc4"/>
<path d="M471.7,130.0 L473.2,130.2 L473.9,129.8 L474.5,129.4 L475.0,128.9 L475.4,128.4 L475.8,127.8 L476.2,127.3 L476.5,126.7 L476.8,126.0 L477.0,125.4 L477.1,124.7 L477.2,124.0 L477.3,123.2 L476.7,122.0 L476.3,121.8 L475.2,121.9 L474.7,122.3 L474.2,122.9 L473.8,123.4 L473.4,123.9 L473.0,124.5 L472.6,125.0 L472.2,125.6 L471.9,126.1 L471.5,126.7 L471.2,127.3 L470.9,127.9 L470.7,128.6 L471.3,129.8 Z" fill="#f8ecc4"/>
<path d="M478.7,134.1 L480.1,133.9 L480.7,133.5 L481.1,133.0 L481.5,132.5 L481.8,131.9 L482.1,131.4 L482.3,130.8 L482.4,130.2 L482.6,129.6 L482.6,128.9 L482.6,128.3 L482.6,127.6 L482.5,126.9 L481.7,126.0 L481.3,125.8 L480.3,126.1 L479.9,126.6 L479.6,127.2 L479.3,127.7 L479.0,128.3 L478.8,128.8 L478.5,129.4 L478.3,130.0 L478.1,130.5 L477.9,131.1 L477.7,131.7 L477.5,132.3 L477.5,133.0 L478.3,133.9 Z" fill="#f8ecc4"/>
<path d="M483.7,134.1 L485.0,134.2 L485.5,133.9 L485.9,133.6 L486.2,133.2 L486.5,132.8 L486.8,132.4 L487.0,131.9 L487.2,131.5 L487.3,131.0 L487.4,130.5 L487.4,130.0 L487.4,129.4 L487.3,128.8 L486.7,128.0 L486.3,127.8 L485.4,127.9 L485.0,128.2 L484.7,128.6 L484.4,129.0 L484.1,129.4 L483.9,129.8 L483.6,130.3 L483.4,130.7 L483.2,131.1 L483.0,131.6 L482.8,132.0 L482.6,132.5 L482.6,133.0 L483.3,133.9 Z" fill="#f8ecc4"/>
<path d="M488.4,136.4 L489.4,136.5 L489.7,136.4 L490.0,136.3 L490.2,136.1 L490.3,135.9 L490.4,135.7 L490.5,135.5 L490.5,135.2 L490.5,135.0 L490.5,134.7 L490.5,134.5 L490.4,134.2 L490.2,133.9 L489.6,133.4 L489.2,133.2 L488.5,133.2 L488.2,133.3 L488.0,133.5 L487.8,133.7 L487.7,133.8 L487.5,134.0 L487.4,134.2 L487.3,134.5 L487.2,134.7 L487.2,134.9 L487.1,135.1 L487.1,135.4 L487.2,135.7 L488.0,136.2 Z" fill="#f8ecc4"/>
<path d="M497.8,148.1 L499.5,147.9 L500.2,147.4 L500.8,146.8 L501.2,146.1 L501.7,145.5 L502.0,144.8 L502.3,144.1 L502.5,143.3 L502.7,142.6 L502.8,141.8 L502.8,141.0 L502.8,140.1 L502.7,139.3 L501.8,138.1 L501.4,137.9 L500.2,138.3 L499.7,138.9 L499.3,139.6 L498.9,140.2 L498.6,140.9 L498.3,141.6 L497.9,142.3 L497.6,143.0 L497.3,143.7 L497.0,144.5 L496.8,145.2 L496.6,145.9 L496.5,146.7 L497.4,147.9 Z" fill="#f8ecc4"/>
<path d="M424.3,112.0 L426.6,112.2 L427.5,111.7 L428.3,111.1 L429.0,110.4 L429.6,109.7 L430.1,108.9 L430.5,108.1 L430.9,107.3 L431.2,106.4 L431.4,105.5 L431.6,104.5 L431.6,103.5 L431.6,102.4 L430.5,100.8 L430.1,100.6 L428.4,100.7 L427.7,101.3 L427.1,102.1 L426.5,102.8 L426.0,103.6 L425.5,104.3 L425.0,105.1 L424.5,105.9 L424.1,106.7 L423.6,107.5 L423.2,108.3 L422.9,109.2 L422.8,110.1 L423.9,111.8 Z" fill="#5a2208" opacity="0.6"/>
<path d="M432.9,115.7 L434.8,115.7 L435.6,115.2 L436.3,114.6 L436.9,114.0 L437.4,113.3 L437.9,112.5 L438.3,111.8 L438.6,111.0 L438.9,110.2 L439.1,109.3 L439.3,108.4 L439.4,107.5 L439.3,106.5 L438.5,105.1 L438.1,104.9 L436.7,105.1 L436.1,105.8 L435.6,106.5 L435.1,107.2 L434.6,107.9 L434.2,108.6 L433.8,109.4 L433.3,110.1 L432.9,110.9 L432.5,111.6 L432.1,112.4 L431.8,113.2 L431.6,114.1 L432.5,115.5 Z" fill="#5a2208" opacity="0.6"/>
<path d="M441.0,116.9 L442.6,117.0 L443.2,116.6 L443.8,116.2 L444.3,115.7 L444.7,115.2 L445.1,114.6 L445.4,114.0 L445.6,113.4 L445.8,112.8 L446.0,112.1 L446.1,111.4 L446.1,110.7 L446.1,109.9 L445.4,108.8 L445.0,108.6 L443.8,108.7 L443.3,109.2 L442.9,109.7 L442.5,110.2 L442.2,110.8 L441.8,111.3 L441.4,111.9 L441.1,112.5 L440.8,113.0 L440.5,113.6 L440.2,114.2 L440.0,114.8 L439.8,115.5 L440.6,116.7 Z" fill="#5a2208" opacity="0.6"/>
<path d="M445.4,121.9 L447.3,121.8 L448.1,121.2 L448.8,120.6 L449.4,119.9 L449.9,119.1 L450.3,118.4 L450.7,117.6 L451.0,116.7 L451.3,115.9 L451.5,115.0 L451.7,114.1 L451.7,113.1 L451.7,112.1 L450.9,110.7 L450.5,110.5 L449.2,110.8 L448.6,111.5 L448.1,112.3 L447.6,113.1 L447.2,113.8 L446.7,114.6 L446.3,115.4 L445.9,116.2 L445.5,117.0 L445.1,117.8 L444.7,118.6 L444.4,119.4 L444.2,120.3 L445.0,121.7 Z" fill="#5a2208" opacity="0.6"/>
<path d="M451.6,124.4 L453.4,124.4 L454.2,123.8 L454.8,123.2 L455.4,122.5 L455.9,121.8 L456.4,121.1 L456.8,120.4 L457.1,119.6 L457.4,118.7 L457.6,117.9 L457.7,117.0 L457.8,116.1 L457.8,115.1 L457.1,113.8 L456.7,113.6 L455.4,113.9 L454.9,114.6 L454.4,115.3 L453.9,116.0 L453.5,116.7 L453.0,117.5 L452.6,118.2 L452.2,118.9 L451.8,119.7 L451.4,120.4 L451.0,121.2 L450.7,122.0 L450.5,122.9 L451.2,124.2 Z" fill="#5a2208" opacity="0.6"/>
<path d="M457.8,126.8 L459.4,126.9 L460.1,126.5 L460.7,126.0 L461.2,125.5 L461.7,124.9 L462.1,124.3 L462.4,123.7 L462.7,123.0 L463.0,122.4 L463.2,121.6 L463.3,120.9 L463.4,120.1 L463.4,119.3 L462.7,118.1 L462.3,117.9 L461.1,118.0 L460.6,118.6 L460.1,119.1 L459.7,119.7 L459.3,120.3 L458.9,120.9 L458.5,121.5 L458.2,122.1 L457.8,122.7 L457.5,123.3 L457.1,124.0 L456.9,124.6 L456.7,125.4 L457.4,126.6 Z" fill="#5a2208" opacity="0.6"/>
<path d="M462.7,129.3 L464.2,129.2 L464.8,128.8 L465.3,128.3 L465.7,127.8 L466.1,127.3 L466.4,126.7 L466.6,126.1 L466.8,125.5 L466.9,124.9 L467.0,124.2 L467.1,123.5 L467.1,122.8 L467.0,122.1 L466.2,121.1 L465.8,120.9 L464.7,121.1 L464.3,121.7 L463.9,122.2 L463.6,122.7 L463.3,123.3 L463.0,123.9 L462.7,124.4 L462.4,125.0 L462.2,125.6 L461.9,126.2 L461.7,126.8 L461.5,127.4 L461.5,128.1 L462.3,129.1 Z" fill="#5a2208" opacity="0.6"/>
<path d="M468.3,129.2 L469.8,129.4 L470.5,129.0 L471.1,128.6 L471.6,128.1 L472.0,127.6 L472.4,127.0 L472.8,126.5 L473.1,125.9 L473.4,125.2 L473.6,124.6 L473.7,123.9 L473.8,123.2 L473.9,122.4 L473.3,121.2 L472.9,121.0 L471.8,121.1 L471.3,121.5 L470.8,122.1 L470.4,122.6 L470.0,123.1 L469.6,123.7 L469.2,124.2 L468.8,124.8 L468.5,125.3 L468.1,125.9 L467.8,126.5 L467.5,127.1 L467.3,127.8 L467.9,129.0 Z" fill="#5a2208" opacity="0.6"/>
<path d="M475.3,133.3 L476.7,133.1 L477.3,132.7 L477.7,132.2 L478.1,131.7 L478.4,131.1 L478.7,130.6 L478.9,130.0 L479.0,129.4 L479.2,128.8 L479.2,128.1 L479.2,127.5 L479.2,126.8 L479.1,126.1 L478.3,125.2 L477.9,125.0 L476.9,125.3 L476.5,125.8 L476.2,126.4 L475.9,126.9 L475.6,127.5 L475.4,128.0 L475.1,128.6 L474.9,129.2 L474.7,129.7 L474.5,130.3 L474.3,130.9 L474.1,131.5 L474.1,132.2 L474.9,133.1 Z" fill="#5a2208" opacity="0.6"/>
<path d="M480.3,133.3 L481.6,133.4 L482.1,133.1 L482.5,132.8 L482.8,132.4 L483.1,132.0 L483.4,131.6 L483.6,131.1 L483.8,130.7 L483.9,130.2 L484.0,129.7 L484.0,129.2 L484.0,128.6 L483.9,128.0 L483.3,127.2 L482.9,127.0 L482.0,127.1 L481.6,127.4 L481.3,127.8 L481.0,128.2 L480.7,128.6 L480.5,129.0 L480.2,129.5 L480.0,129.9 L479.8,130.3 L479.6,130.8 L479.4,131.2 L479.2,131.7 L479.2,132.2 L479.9,133.1 Z" fill="#5a2208" opacity="0.6"/>
<path d="M485.0,135.6 L486.0,135.7 L486.3,135.6 L486.6,135.5 L486.8,135.3 L486.9,135.1 L487.0,134.9 L487.1,134.7 L487.1,134.4 L487.1,134.2 L487.1,133.9 L487.1,133.7 L487.0,133.4 L486.8,133.1 L486.2,132.6 L485.8,132.4 L485.1,132.4 L484.8,132.5 L484.6,132.7 L484.4,132.9 L484.3,133.0 L484.1,133.2 L484.0,133.4 L483.9,133.7 L483.8,133.9 L483.8,134.1 L483.7,134.3 L483.7,134.6 L483.8,134.9 L484.6,135.4 Z" fill="#5a2208" opacity="0.6"/>
<path d="M494.4,147.3 L496.1,147.1 L496.8,146.6 L497.4,146.0 L497.8,145.3 L498.3,144.7 L498.6,144.0 L498.9,143.3 L499.1,142.5 L499.3,141.8 L499.4,141.0 L499.4,140.2 L499.4,139.3 L499.3,138.5 L498.4,137.3 L498.0,137.1 L496.8,137.5 L496.3,138.1 L495.9,138.8 L495.5,139.4 L495.2,140.1 L494.9,140.8 L494.5,141.5 L494.2,142.2 L493.9,142.9 L493.6,143.7 L493.4,144.4 L493.2,145.1 L493.1,145.9 L494.0,147.1 Z" fill="#5a2208" opacity="0.6"/>
<path d="M424.3,112.0 L426.3,112.1 L427.2,111.5 L427.9,110.9 L428.5,110.2 L429.1,109.4 L429.6,108.7 L430.1,107.9 L430.4,107.0 L430.7,106.2 L431.0,105.3 L431.2,104.3 L431.3,103.3 L431.3,102.3 L430.5,100.8 L430.1,100.6 L428.7,100.8 L428.0,101.5 L427.5,102.3 L426.9,103.0 L426.4,103.8 L426.0,104.6 L425.5,105.3 L425.0,106.1 L424.5,106.9 L424.1,107.7 L423.7,108.5 L423.3,109.4 L423.1,110.3 L423.9,111.8 Z" fill="#1a0500"/>
<path d="M432.9,115.7 L434.5,115.6 L435.3,115.0 L435.9,114.4 L436.5,113.7 L437.0,113.0 L437.4,112.3 L437.8,111.5 L438.2,110.8 L438.5,109.9 L438.7,109.1 L438.9,108.2 L439.0,107.3 L439.1,106.4 L438.5,105.1 L438.1,104.9 L437.0,105.3 L436.4,105.9 L436.0,106.7 L435.5,107.4 L435.1,108.1 L434.6,108.9 L434.2,109.6 L433.8,110.4 L433.4,111.1 L433.0,111.9 L432.6,112.6 L432.2,113.4 L432.0,114.2 L432.5,115.5 Z" fill="#1a0500"/>
<path d="M441.0,116.9 L442.3,116.8 L442.9,116.4 L443.4,116.0 L443.8,115.5 L444.2,114.9 L444.6,114.4 L444.9,113.8 L445.2,113.2 L445.4,112.6 L445.6,111.9 L445.7,111.2 L445.8,110.5 L445.8,109.8 L445.4,108.8 L445.0,108.6 L444.1,108.9 L443.7,109.4 L443.3,109.9 L442.9,110.5 L442.6,111.0 L442.2,111.6 L441.9,112.2 L441.6,112.7 L441.2,113.3 L440.9,113.9 L440.6,114.4 L440.3,115.1 L440.2,115.7 L440.6,116.7 Z" fill="#1a0500"/>
<path d="M445.4,121.9 L446.9,121.7 L447.7,121.0 L448.3,120.4 L448.9,119.6 L449.4,118.9 L449.9,118.1 L450.2,117.3 L450.6,116.5 L450.9,115.6 L451.1,114.8 L451.3,113.9 L451.4,112.9 L451.4,112.0 L450.9,110.7 L450.5,110.5 L449.4,111.0 L448.9,111.7 L448.5,112.5 L448.0,113.3 L447.6,114.0 L447.2,114.8 L446.8,115.6 L446.4,116.4 L445.9,117.2 L445.5,118.0 L445.1,118.8 L444.8,119.6 L444.5,120.5 L445.0,121.7 Z" fill="#1a0500"/>
<path d="M451.6,124.4 L453.0,124.2 L453.8,123.6 L454.4,123.0 L455.0,122.3 L455.5,121.6 L455.9,120.9 L456.3,120.1 L456.6,119.3 L456.9,118.5 L457.2,117.7 L457.4,116.8 L457.5,115.9 L457.6,115.0 L457.1,113.8 L456.7,113.6 L455.7,114.0 L455.2,114.7 L454.7,115.5 L454.3,116.2 L453.9,116.9 L453.5,117.7 L453.1,118.4 L452.6,119.2 L452.2,119.9 L451.8,120.7 L451.4,121.4 L451.1,122.2 L450.8,123.0 L451.2,124.2 Z" fill="#1a0500"/>
<path d="M457.8,126.8 L459.1,126.7 L459.7,126.3 L460.3,125.8 L460.8,125.2 L461.2,124.7 L461.6,124.1 L462.0,123.4 L462.3,122.8 L462.5,122.1 L462.8,121.4 L462.9,120.7 L463.1,119.9 L463.1,119.2 L462.7,118.1 L462.3,117.9 L461.4,118.2 L460.9,118.7 L460.5,119.3 L460.1,119.9 L459.7,120.5 L459.4,121.1 L459.0,121.8 L458.6,122.4 L458.3,123.0 L457.9,123.6 L457.5,124.2 L457.2,124.9 L457.0,125.5 L457.4,126.6 Z" fill="#1a0500"/>
<path d="M462.7,129.3 L463.9,129.1 L464.4,128.6 L464.9,128.1 L465.2,127.6 L465.6,127.1 L465.9,126.5 L466.1,125.9 L466.3,125.3 L466.5,124.7 L466.6,124.0 L466.7,123.4 L466.7,122.7 L466.7,122.0 L466.2,121.1 L465.8,120.9 L465.0,121.3 L464.6,121.8 L464.3,122.4 L464.0,122.9 L463.7,123.5 L463.5,124.1 L463.2,124.6 L462.9,125.2 L462.7,125.8 L462.4,126.4 L462.2,127.0 L461.9,127.6 L461.8,128.2 L462.3,129.1 Z" fill="#1a0500"/>
<path d="M468.3,129.2 L469.5,129.2 L470.1,128.8 L470.7,128.3 L471.2,127.8 L471.6,127.3 L472.0,126.8 L472.4,126.2 L472.7,125.6 L472.9,125.0 L473.2,124.3 L473.4,123.7 L473.5,123.0 L473.6,122.2 L473.3,121.2 L472.9,121.0 L472.1,121.2 L471.6,121.7 L471.2,122.3 L470.8,122.8 L470.4,123.4 L470.0,123.9 L469.6,124.5 L469.3,125.1 L468.9,125.6 L468.5,126.2 L468.2,126.8 L467.9,127.4 L467.6,128.0 L467.9,129.0 Z" fill="#1a0500"/>
<path d="M475.3,133.3 L476.4,133.0 L476.9,132.5 L477.3,132.0 L477.6,131.5 L477.9,131.0 L478.2,130.4 L478.4,129.8 L478.6,129.2 L478.7,128.6 L478.8,128.0 L478.8,127.3 L478.8,126.7 L478.8,126.0 L478.3,125.2 L477.9,125.0 L477.2,125.4 L476.9,126.0 L476.6,126.5 L476.3,127.1 L476.1,127.6 L475.9,128.2 L475.6,128.8 L475.4,129.4 L475.1,129.9 L474.9,130.5 L474.7,131.1 L474.5,131.7 L474.4,132.3 L474.9,133.1 Z" fill="#1a0500"/>
<path d="M480.3,133.3 L481.2,133.2 L481.7,132.9 L482.1,132.5 L482.4,132.2 L482.7,131.8 L482.9,131.3 L483.1,130.9 L483.3,130.4 L483.5,130.0 L483.6,129.5 L483.6,129.0 L483.7,128.5 L483.7,127.9 L483.3,127.2 L482.9,127.0 L482.2,127.2 L481.9,127.6 L481.7,128.0 L481.4,128.4 L481.2,128.8 L480.9,129.3 L480.7,129.7 L480.4,130.1 L480.2,130.6 L480.0,131.0 L479.8,131.4 L479.6,131.9 L479.5,132.4 L479.9,133.1 Z" fill="#1a0500"/>
<path d="M485.0,135.6 L485.7,135.6 L485.9,135.5 L486.1,135.3 L486.3,135.1 L486.4,134.9 L486.5,134.7 L486.6,134.5 L486.7,134.3 L486.7,134.0 L486.7,133.8 L486.7,133.5 L486.7,133.3 L486.6,133.0 L486.2,132.6 L485.8,132.4 L485.3,132.5 L485.1,132.7 L485.0,132.8 L484.8,133.0 L484.7,133.2 L484.6,133.4 L484.5,133.6 L484.4,133.8 L484.3,134.1 L484.2,134.3 L484.2,134.5 L484.1,134.7 L484.2,135.0 L484.6,135.4 Z" fill="#1a0500"/>
<path d="M494.4,147.3 L495.8,147.0 L496.4,146.4 L496.9,145.8 L497.4,145.2 L497.8,144.5 L498.1,143.8 L498.4,143.1 L498.6,142.3 L498.8,141.6 L498.9,140.8 L499.0,140.0 L499.1,139.2 L499.0,138.3 L498.4,137.3 L498.0,137.1 L497.1,137.6 L496.6,138.2 L496.3,138.9 L496.0,139.6 L495.6,140.3 L495.3,141.0 L495.0,141.7 L494.7,142.4 L494.4,143.1 L494.1,143.8 L493.8,144.6 L493.6,145.3 L493.4,146.1 L494.0,147.1 Z" fill="#1a0500"/>
<path d="M483.8,96.2 Q486.5,94.8 488.5,96.5 L491.2,98.4 L488.5,100.2 Q486,102 483.8,100.4 Q482.8,98.3 483.8,96.2 Z" fill="#fff"/>
</g></g>
<rect x="416.5" y="156" width="47.0" height="19.7" fill="#fff"/><text x="439.8" y="165.0" font-family="Liberation Serif, serif" font-size="8.3" text-anchor="middle" fill="#262626" stroke="#262626" stroke-width="0.22">400nm</text><text x="439.8" y="173.4" font-family="Liberation Serif, serif" font-size="8.3" text-anchor="middle" fill="#262626" stroke="#262626" stroke-width="0.22">removed</text>
<rect x="100.5" y="222.5" width="398" height="145.7" fill="none" stroke="#d9d9d9" stroke-width="1"/>
<line x1="100.5" y1="368.2" x2="100.5" y2="366" stroke="#d9d9d9" stroke-width="1"/>
<line x1="153.6" y1="368.2" x2="153.6" y2="366" stroke="#d9d9d9" stroke-width="1"/>
<line x1="206.7" y1="368.2" x2="206.7" y2="366" stroke="#d9d9d9" stroke-width="1"/>
<line x1="259.7" y1="368.2" x2="259.7" y2="366" stroke="#d9d9d9" stroke-width="1"/>
<line x1="312.8" y1="368.2" x2="312.8" y2="366" stroke="#d9d9d9" stroke-width="1"/>
<line x1="365.9" y1="368.2" x2="365.9" y2="366" stroke="#d9d9d9" stroke-width="1"/>
<line x1="419.0" y1="368.2" x2="419.0" y2="366" stroke="#d9d9d9" stroke-width="1"/>
<line x1="472.1" y1="368.2" x2="472.1" y2="366" stroke="#d9d9d9" stroke-width="1"/>
<line x1="100.5" y1="222.5" x2="102.5" y2="222.5" stroke="#d9d9d9" stroke-width="1"/>
<line x1="100.5" y1="243.3" x2="102.5" y2="243.3" stroke="#d9d9d9" stroke-width="1"/>
<line x1="100.5" y1="264.1" x2="102.5" y2="264.1" stroke="#d9d9d9" stroke-width="1"/>
<line x1="100.5" y1="285.0" x2="102.5" y2="285.0" stroke="#d9d9d9" stroke-width="1"/>
<line x1="100.5" y1="305.8" x2="102.5" y2="305.8" stroke="#d9d9d9" stroke-width="1"/>
<line x1="100.5" y1="326.6" x2="102.5" y2="326.6" stroke="#d9d9d9" stroke-width="1"/>
<line x1="100.5" y1="347.4" x2="102.5" y2="347.4" stroke="#d9d9d9" stroke-width="1"/>
<line x1="100.5" y1="368.2" x2="102.5" y2="368.2" stroke="#d9d9d9" stroke-width="1"/>
<line x1="203.8" y1="222.6" x2="203.8" y2="368" stroke="#22996c" stroke-width="1.7" stroke-dasharray="2.1,1.77"/>
<line x1="282.6" y1="224.6" x2="282.6" y2="368" stroke="#22996c" stroke-width="1.7" stroke-dasharray="2.1,1.77"/>
<path d="M100.0,242.0 C100.8,241.9 103.5,241.5 105.1,241.5 C106.7,241.5 108.0,241.7 109.5,241.8 C111.0,241.9 112.3,241.9 113.8,242.0 C115.2,242.1 116.8,242.2 118.2,242.3 C119.7,242.4 121.0,242.4 122.5,242.6 C124.0,242.8 125.6,242.8 126.9,243.3 C128.2,243.9 129.2,244.2 130.5,245.9 C131.8,247.6 133.4,250.6 134.9,253.2 C136.4,255.8 137.9,259.7 139.3,261.5 C140.8,263.3 142.2,263.2 143.6,264.1 C145.0,265.0 146.5,265.4 148.0,266.7 C149.5,268.0 151.0,269.4 152.4,272.1 C153.8,274.8 155.3,279.6 156.7,283.0 C158.1,286.4 159.5,289.0 160.6,292.7 C161.7,296.4 162.4,300.7 163.3,305.0 C164.2,309.3 165.1,313.6 165.8,318.3 C166.5,323.0 167.0,328.3 167.5,333.3 C168.0,338.3 168.6,344.3 169.0,348.3 C169.4,352.3 169.3,356.0 170.0,357.5 C170.7,359.0 172.4,359.1 173.2,357.5 C173.9,355.9 174.0,352.6 174.5,348.0 C175.0,343.4 175.4,336.0 176.0,330.0 C176.6,324.0 177.1,316.8 177.8,312.0 C178.5,307.2 179.2,304.2 180.0,301.5 C180.8,298.8 181.6,297.6 182.3,295.5 C183.0,293.4 183.6,291.4 184.3,289.0 C185.0,286.6 185.4,284.1 186.5,281.0 C187.6,277.9 189.6,273.8 191.1,270.5 C192.6,267.2 194.1,262.9 195.5,261.1 C196.9,259.3 198.4,260.2 199.8,259.6 C201.2,259.0 202.8,257.8 204.2,257.2 C205.6,256.6 207.1,256.0 208.5,256.3 C209.9,256.6 211.6,257.1 212.9,258.9 C214.2,260.7 215.3,264.1 216.5,266.9 C217.7,269.7 219.3,273.7 220.2,275.6 C221.0,277.5 220.8,280.2 221.6,278.5 C222.4,276.8 224.0,269.6 225.3,265.5 C226.6,261.4 228.2,256.5 229.6,253.8 C231.0,251.1 232.5,250.3 234.0,249.5 C235.5,248.7 237.0,248.1 238.4,248.7 C239.8,249.3 241.1,251.4 242.7,253.1 C244.3,254.8 246.4,256.3 247.9,258.9 C249.4,261.4 250.3,265.6 251.5,268.4 C252.7,271.2 254.2,274.2 255.2,275.6 C256.2,277.1 256.5,277.6 257.4,277.1 C258.2,276.6 259.2,275.1 260.3,272.7 C261.4,270.3 262.6,265.3 263.9,262.5 C265.2,259.7 266.9,257.6 268.3,256.0 C269.8,254.4 271.2,253.9 272.6,253.1 C274.1,252.3 275.4,251.7 277.0,251.3 C278.6,250.9 280.5,250.5 282.1,250.5 C283.7,250.5 285.2,250.6 286.5,251.3 C287.8,252.0 288.8,252.8 290.1,254.5 C291.4,256.2 293.1,259.2 294.5,261.8 C295.9,264.4 297.4,267.7 298.8,269.8 C300.2,271.9 301.8,273.2 303.2,274.2 C304.6,275.2 306.1,274.4 307.5,275.6 C308.9,276.8 310.5,279.1 311.9,281.5 C313.3,283.9 314.7,287.5 316.1,290.2 C317.5,292.9 318.9,295.1 320.5,297.5 C322.1,299.9 324.1,302.5 325.5,304.7 C326.9,306.9 327.9,308.7 329.1,310.5 C330.3,312.3 331.9,314.6 332.7,315.6 C333.5,316.6 333.5,317.5 334.2,316.4 C334.9,315.3 335.9,312.2 337.1,309.1 C338.3,306.0 340.1,301.4 341.5,297.5 C342.9,293.6 344.4,288.2 345.8,285.8 C347.2,283.4 348.6,283.1 350.2,282.9 C351.8,282.7 353.7,282.7 355.3,284.4 C356.9,286.1 358.2,290.4 359.6,293.1 C361.1,295.8 362.7,298.3 364.0,300.4 C365.3,302.5 366.3,304.3 367.6,305.5 C368.9,306.7 370.7,306.0 372.0,307.6 C373.3,309.2 374.6,313.2 375.6,314.9 C376.6,316.6 377.0,318.2 377.8,317.8 C378.6,317.4 379.6,315.4 380.4,312.7 C381.2,310.0 381.9,306.0 382.5,301.8 C383.1,297.6 383.6,290.8 384.3,287.3 C385.0,283.8 385.7,282.9 386.5,281.0 C387.3,279.1 387.9,279.3 389.1,276.0 C390.3,272.7 392.1,264.6 393.5,261.2 C394.9,257.8 396.4,257.4 397.8,255.4 C399.2,253.4 400.8,250.6 402.2,249.3 C403.6,248.0 405.1,247.4 406.5,247.4 C407.9,247.4 409.4,248.8 410.9,249.1 C412.4,249.4 414.6,249.3 415.3,249.3" fill="none" stroke="#2f5a9c" stroke-width="1.45" stroke-linejoin="round"/>
<circle cx="100.5" cy="242.0" r="1.35" fill="#2f5a9c"/>
<circle cx="104.9" cy="241.5" r="1.35" fill="#2f5a9c"/>
<circle cx="109.2" cy="241.8" r="1.35" fill="#2f5a9c"/>
<circle cx="113.6" cy="242.0" r="1.35" fill="#2f5a9c"/>
<circle cx="117.9" cy="242.3" r="1.35" fill="#2f5a9c"/>
<circle cx="122.3" cy="242.6" r="1.35" fill="#2f5a9c"/>
<circle cx="126.7" cy="243.3" r="1.35" fill="#2f5a9c"/>
<circle cx="131.0" cy="246.8" r="1.35" fill="#2f5a9c"/>
<circle cx="135.4" cy="254.1" r="1.35" fill="#2f5a9c"/>
<circle cx="139.7" cy="261.8" r="1.35" fill="#2f5a9c"/>
<circle cx="144.1" cy="264.4" r="1.35" fill="#2f5a9c"/>
<circle cx="148.5" cy="267.3" r="1.35" fill="#2f5a9c"/>
<circle cx="152.8" cy="273.2" r="1.35" fill="#2f5a9c"/>
<circle cx="157.2" cy="284.2" r="1.35" fill="#2f5a9c"/>
<circle cx="161.5" cy="297.0" r="1.35" fill="#2f5a9c"/>
<circle cx="165.9" cy="319.2" r="1.35" fill="#2f5a9c"/>
<circle cx="170.3" cy="357.5" r="1.35" fill="#2f5a9c"/>
<circle cx="174.6" cy="346.6" r="1.35" fill="#2f5a9c"/>
<circle cx="179.0" cy="306.4" r="1.35" fill="#2f5a9c"/>
<circle cx="183.3" cy="292.1" r="1.35" fill="#2f5a9c"/>
<circle cx="187.7" cy="278.3" r="1.35" fill="#2f5a9c"/>
<circle cx="192.1" cy="268.4" r="1.35" fill="#2f5a9c"/>
<circle cx="196.4" cy="260.8" r="1.35" fill="#2f5a9c"/>
<circle cx="200.8" cy="259.1" r="1.35" fill="#2f5a9c"/>
<circle cx="205.1" cy="257.0" r="1.35" fill="#2f5a9c"/>
<circle cx="209.5" cy="256.9" r="1.35" fill="#2f5a9c"/>
<circle cx="213.9" cy="261.0" r="1.35" fill="#2f5a9c"/>
<circle cx="218.2" cy="270.9" r="1.35" fill="#2f5a9c"/>
<circle cx="222.6" cy="275.1" r="1.35" fill="#2f5a9c"/>
<circle cx="226.9" cy="261.0" r="1.35" fill="#2f5a9c"/>
<circle cx="231.3" cy="252.1" r="1.35" fill="#2f5a9c"/>
<circle cx="235.7" cy="249.2" r="1.35" fill="#2f5a9c"/>
<circle cx="240.0" cy="250.4" r="1.35" fill="#2f5a9c"/>
<circle cx="244.4" cy="255.0" r="1.35" fill="#2f5a9c"/>
<circle cx="248.7" cy="261.1" r="1.35" fill="#2f5a9c"/>
<circle cx="253.1" cy="271.5" r="1.35" fill="#2f5a9c"/>
<circle cx="257.5" cy="277.0" r="1.35" fill="#2f5a9c"/>
<circle cx="261.8" cy="268.4" r="1.35" fill="#2f5a9c"/>
<circle cx="266.2" cy="259.1" r="1.35" fill="#2f5a9c"/>
<circle cx="270.5" cy="254.5" r="1.35" fill="#2f5a9c"/>
<circle cx="274.9" cy="252.2" r="1.35" fill="#2f5a9c"/>
<circle cx="279.3" cy="250.9" r="1.35" fill="#2f5a9c"/>
<circle cx="283.6" cy="250.8" r="1.35" fill="#2f5a9c"/>
<circle cx="288.0" cy="252.6" r="1.35" fill="#2f5a9c"/>
<circle cx="292.3" cy="258.2" r="1.35" fill="#2f5a9c"/>
<circle cx="296.7" cy="265.9" r="1.35" fill="#2f5a9c"/>
<circle cx="301.1" cy="272.1" r="1.35" fill="#2f5a9c"/>
<circle cx="305.4" cy="274.9" r="1.35" fill="#2f5a9c"/>
<circle cx="309.8" cy="278.7" r="1.35" fill="#2f5a9c"/>
<circle cx="314.1" cy="286.1" r="1.35" fill="#2f5a9c"/>
<circle cx="318.5" cy="294.2" r="1.35" fill="#2f5a9c"/>
<circle cx="322.9" cy="300.9" r="1.35" fill="#2f5a9c"/>
<circle cx="327.2" cy="307.5" r="1.35" fill="#2f5a9c"/>
<circle cx="331.6" cy="314.0" r="1.35" fill="#2f5a9c"/>
<circle cx="335.9" cy="312.0" r="1.35" fill="#2f5a9c"/>
<circle cx="340.3" cy="300.7" r="1.35" fill="#2f5a9c"/>
<circle cx="344.7" cy="288.9" r="1.35" fill="#2f5a9c"/>
<circle cx="349.0" cy="283.7" r="1.35" fill="#2f5a9c"/>
<circle cx="353.4" cy="283.8" r="1.35" fill="#2f5a9c"/>
<circle cx="357.7" cy="289.3" r="1.35" fill="#2f5a9c"/>
<circle cx="362.1" cy="297.2" r="1.35" fill="#2f5a9c"/>
<circle cx="366.5" cy="303.9" r="1.35" fill="#2f5a9c"/>
<circle cx="370.8" cy="307.0" r="1.35" fill="#2f5a9c"/>
<circle cx="375.2" cy="314.0" r="1.35" fill="#2f5a9c"/>
<circle cx="379.5" cy="314.4" r="1.35" fill="#2f5a9c"/>
<circle cx="383.9" cy="290.5" r="1.35" fill="#2f5a9c"/>
<circle cx="388.3" cy="277.6" r="1.35" fill="#2f5a9c"/>
<circle cx="392.6" cy="264.2" r="1.35" fill="#2f5a9c"/>
<circle cx="397.0" cy="256.5" r="1.35" fill="#2f5a9c"/>
<circle cx="401.3" cy="250.5" r="1.35" fill="#2f5a9c"/>
<circle cx="405.7" cy="247.8" r="1.35" fill="#2f5a9c"/>
<circle cx="410.1" cy="248.8" r="1.35" fill="#2f5a9c"/>
<circle cx="414.4" cy="249.3" r="1.35" fill="#2f5a9c"/>
<path d="M100.0,262.6 C101.5,262.6 105.3,262.4 108.7,262.6 C112.1,262.8 117.5,263.1 120.4,263.7 C123.3,264.3 124.4,265.1 126.2,266.3 C128.0,267.5 129.9,269.6 131.3,270.6 C132.8,271.6 133.1,271.0 134.9,272.1 C136.7,273.2 140.0,276.0 142.2,277.2 C144.4,278.4 146.4,278.3 148.0,279.4 C149.6,280.5 150.4,281.6 151.6,283.7 C152.8,285.8 153.7,289.0 155.0,291.7 C156.3,294.4 157.8,296.9 159.2,300.0 C160.6,303.1 162.1,306.1 163.3,310.0 C164.6,313.9 165.9,318.3 166.7,323.3 C167.5,328.3 167.8,334.3 168.3,340.0 C168.8,345.7 168.7,354.6 169.6,357.5 C170.5,360.4 173.0,359.6 174.0,357.5 C175.0,355.4 175.0,349.9 175.5,345.0 C176.0,340.1 176.5,333.8 177.2,328.0 C177.9,322.2 178.7,315.3 179.7,310.0 C180.7,304.7 181.9,300.7 183.3,296.0 C184.7,291.3 186.6,285.9 188.3,282.0 C190.0,278.1 191.5,275.0 193.3,272.7 C195.1,270.4 197.4,269.2 199.1,268.4 C200.8,267.5 202.1,267.5 203.5,267.6 C204.9,267.7 206.2,268.0 207.8,269.1 C209.4,270.2 211.2,272.9 212.9,274.2 C214.6,275.5 216.4,276.4 218.0,277.1 C219.6,277.8 220.7,279.5 222.4,278.5 C224.1,277.5 226.0,273.1 228.2,271.3 C230.4,269.5 233.1,268.1 235.5,267.6 C237.9,267.1 240.2,267.5 242.7,268.4 C245.2,269.3 248.1,271.6 250.4,273.0 C252.7,274.4 254.6,276.7 256.6,277.1 C258.6,277.5 260.1,276.5 262.5,275.6 C264.9,274.8 268.1,272.5 271.2,272.0 C274.3,271.5 278.7,272.2 281.4,272.7 C284.1,273.2 285.3,273.9 287.2,274.9 C289.1,275.9 290.8,276.9 293.0,278.5 C295.2,280.1 297.8,282.4 300.2,284.3 C302.6,286.2 305.5,288.3 307.4,289.8 C309.3,291.3 310.2,292.4 311.6,293.1 C313.0,293.8 314.3,292.8 316.0,294.0 C317.7,295.2 319.9,298.1 321.8,300.4 C323.7,302.7 325.7,304.9 327.6,307.6 C329.6,310.3 331.8,316.3 333.5,316.4 C335.2,316.5 336.4,311.1 337.8,308.4 C339.2,305.7 341.0,302.1 342.2,300.4 C343.4,298.7 343.7,298.6 345.1,298.2 C346.6,297.8 349.2,297.8 350.9,298.2 C352.6,298.6 353.6,299.3 355.3,300.4 C357.0,301.5 359.2,303.2 361.1,304.7 C363.0,306.1 365.0,308.0 366.9,309.1 C368.8,310.2 371.0,310.0 372.7,311.3 C374.4,312.6 375.8,315.3 377.1,317.1 C378.4,318.9 379.4,323.5 380.4,322.2 C381.4,320.9 382.3,313.5 383.3,309.1 C384.3,304.7 385.1,300.6 386.2,296.0 C387.3,291.4 388.4,285.4 389.8,281.5 C391.2,277.6 393.1,274.7 394.9,272.8 C396.7,270.9 398.8,270.8 400.7,270.3 C402.6,269.8 404.6,269.8 406.5,269.9 C408.4,270.0 410.2,270.5 412.4,271.1 C414.6,271.7 418.4,273.1 419.6,273.5" fill="none" stroke="#3c6bb6" stroke-width="1.45" stroke-linejoin="round"/>
<path d="M100.0,280.1 C101.5,280.2 105.8,280.4 108.7,280.8 C111.6,281.2 114.8,281.5 117.5,282.3 C120.2,283.1 122.4,284.5 124.7,285.9 C127.0,287.3 129.1,288.7 131.5,290.5 C133.9,292.3 136.8,295.1 139.3,296.5 C141.8,297.9 144.6,297.6 146.5,298.7 C148.4,299.8 149.8,301.5 150.9,303.1 C152.0,304.7 152.2,306.2 153.3,308.3 C154.4,310.4 156.1,313.4 157.5,315.8 C158.9,318.2 160.4,320.1 161.7,322.5 C162.9,324.9 164.0,326.5 165.0,330.0 C166.0,333.5 166.7,338.8 167.5,343.3 C168.3,347.9 168.6,355.0 169.8,357.3 C171.0,359.6 173.5,359.2 174.5,357.3 C175.5,355.4 175.4,351.2 176.0,346.0 C176.6,340.8 177.2,332.0 178.0,326.0 C178.8,320.0 179.7,314.4 180.5,310.0 C181.3,305.6 182.1,302.5 183.0,299.5 C183.9,296.5 184.8,293.6 185.8,292.0 C186.8,290.4 187.7,291.0 188.9,290.2 C190.2,289.4 191.4,287.8 193.3,287.3 C195.2,286.8 198.3,286.9 200.5,287.0 C202.7,287.1 204.2,287.2 206.4,288.0 C208.6,288.8 210.7,289.9 213.6,291.6 C216.5,293.3 221.4,298.8 223.8,298.2 C226.2,297.6 226.2,289.8 228.2,288.0 C230.1,286.2 232.7,287.4 235.5,287.3 C238.3,287.2 242.0,287.2 245.0,287.3 C248.0,287.4 250.5,287.8 253.7,287.7 C256.8,287.6 260.5,286.9 263.9,286.5 C267.3,286.1 271.2,285.6 274.1,285.4 C277.0,285.2 279.0,284.8 281.4,285.1 C283.8,285.4 286.2,286.5 288.6,287.3 C291.0,288.1 294.0,289.2 295.9,290.2 C297.8,291.2 297.9,291.9 300.0,293.1 C302.1,294.3 305.8,296.1 308.7,297.5 C311.6,298.9 314.8,300.4 317.5,301.8 C320.2,303.2 322.3,303.5 324.7,306.2 C327.1,308.9 330.1,316.8 332.0,317.8 C333.9,318.8 334.7,314.7 336.4,312.0 C338.1,309.3 340.3,303.9 342.2,301.8 C344.1,299.7 346.1,299.6 348.0,299.6 C349.9,299.6 351.9,300.7 353.8,301.8 C355.7,302.9 357.4,304.8 359.6,306.2 C361.8,307.6 364.4,309.1 366.9,310.5 C369.4,311.9 372.5,312.8 374.5,314.9 C376.5,317.0 377.7,321.7 378.9,322.9 C380.1,324.1 380.7,325.0 381.8,322.2 C382.9,319.4 384.3,311.8 385.5,306.2 C386.7,300.6 388.0,292.2 389.1,288.7 C390.2,285.2 390.3,286.0 392.0,285.1 C393.7,284.2 396.6,283.9 399.3,283.6 C402.0,283.4 404.9,283.3 408.0,283.6 C411.1,283.9 416.5,285.2 418.2,285.5" fill="none" stroke="#4170bf" stroke-width="1.5" stroke-linejoin="round"/>
<rect x="99.3" y="279.8" width="2.4" height="1.5" fill="#4170bf"/>
<rect x="103.7" y="280.2" width="2.4" height="1.5" fill="#4170bf"/>
<rect x="108.0" y="280.6" width="2.4" height="1.5" fill="#4170bf"/>
<rect x="112.4" y="281.3" width="2.4" height="1.5" fill="#4170bf"/>
<rect x="116.7" y="282.2" width="2.4" height="1.5" fill="#4170bf"/>
<rect x="121.1" y="284.4" width="2.4" height="1.5" fill="#4170bf"/>
<rect x="125.5" y="286.9" width="2.4" height="1.5" fill="#4170bf"/>
<rect x="129.8" y="289.9" width="2.4" height="1.5" fill="#4170bf"/>
<rect x="134.2" y="293.2" width="2.4" height="1.5" fill="#4170bf"/>
<rect x="138.5" y="296.3" width="2.4" height="1.5" fill="#4170bf"/>
<rect x="142.9" y="297.7" width="2.4" height="1.5" fill="#4170bf"/>
<rect x="147.3" y="300.4" width="2.4" height="1.5" fill="#4170bf"/>
<rect x="151.6" y="307.0" width="2.4" height="1.5" fill="#4170bf"/>
<rect x="156.0" y="314.9" width="2.4" height="1.5" fill="#4170bf"/>
<rect x="160.3" y="321.9" width="2.4" height="1.5" fill="#4170bf"/>
<rect x="164.7" y="334.5" width="2.4" height="1.5" fill="#4170bf"/>
<rect x="169.1" y="357.0" width="2.4" height="1.5" fill="#4170bf"/>
<rect x="173.4" y="356.1" width="2.4" height="1.5" fill="#4170bf"/>
<rect x="177.8" y="319.4" width="2.4" height="1.5" fill="#4170bf"/>
<rect x="182.1" y="298.3" width="2.4" height="1.5" fill="#4170bf"/>
<rect x="186.5" y="290.6" width="2.4" height="1.5" fill="#4170bf"/>
<rect x="190.9" y="287.8" width="2.4" height="1.5" fill="#4170bf"/>
<rect x="195.2" y="286.9" width="2.4" height="1.5" fill="#4170bf"/>
<rect x="199.6" y="286.7" width="2.4" height="1.5" fill="#4170bf"/>
<rect x="203.9" y="287.5" width="2.4" height="1.5" fill="#4170bf"/>
<rect x="208.3" y="289.3" width="2.4" height="1.5" fill="#4170bf"/>
<rect x="212.7" y="291.5" width="2.4" height="1.5" fill="#4170bf"/>
<rect x="217.0" y="294.3" width="2.4" height="1.5" fill="#4170bf"/>
<rect x="221.4" y="297.1" width="2.4" height="1.5" fill="#4170bf"/>
<rect x="225.7" y="290.6" width="2.4" height="1.5" fill="#4170bf"/>
<rect x="230.1" y="287.4" width="2.4" height="1.5" fill="#4170bf"/>
<rect x="234.5" y="287.0" width="2.4" height="1.5" fill="#4170bf"/>
<rect x="238.8" y="287.0" width="2.4" height="1.5" fill="#4170bf"/>
<rect x="243.2" y="287.0" width="2.4" height="1.5" fill="#4170bf"/>
<rect x="247.5" y="287.2" width="2.4" height="1.5" fill="#4170bf"/>
<rect x="251.9" y="287.4" width="2.4" height="1.5" fill="#4170bf"/>
<rect x="256.3" y="287.0" width="2.4" height="1.5" fill="#4170bf"/>
<rect x="260.6" y="286.4" width="2.4" height="1.5" fill="#4170bf"/>
<rect x="265.0" y="286.0" width="2.4" height="1.5" fill="#4170bf"/>
<rect x="269.3" y="285.5" width="2.4" height="1.5" fill="#4170bf"/>
<rect x="273.7" y="285.1" width="2.4" height="1.5" fill="#4170bf"/>
<rect x="278.1" y="284.9" width="2.4" height="1.5" fill="#4170bf"/>
<rect x="282.4" y="285.5" width="2.4" height="1.5" fill="#4170bf"/>
<rect x="286.8" y="286.8" width="2.4" height="1.5" fill="#4170bf"/>
<rect x="291.1" y="288.5" width="2.4" height="1.5" fill="#4170bf"/>
<rect x="295.5" y="290.5" width="2.4" height="1.5" fill="#4170bf"/>
<rect x="299.9" y="293.3" width="2.4" height="1.5" fill="#4170bf"/>
<rect x="304.2" y="295.5" width="2.4" height="1.5" fill="#4170bf"/>
<rect x="308.6" y="297.7" width="2.4" height="1.5" fill="#4170bf"/>
<rect x="312.9" y="299.9" width="2.4" height="1.5" fill="#4170bf"/>
<rect x="317.3" y="302.1" width="2.4" height="1.5" fill="#4170bf"/>
<rect x="321.7" y="304.8" width="2.4" height="1.5" fill="#4170bf"/>
<rect x="326.0" y="309.9" width="2.4" height="1.5" fill="#4170bf"/>
<rect x="330.4" y="316.8" width="2.4" height="1.5" fill="#4170bf"/>
<rect x="334.7" y="312.3" width="2.4" height="1.5" fill="#4170bf"/>
<rect x="339.1" y="304.8" width="2.4" height="1.5" fill="#4170bf"/>
<rect x="343.5" y="300.6" width="2.4" height="1.5" fill="#4170bf"/>
<rect x="347.8" y="299.7" width="2.4" height="1.5" fill="#4170bf"/>
<rect x="352.2" y="301.3" width="2.4" height="1.5" fill="#4170bf"/>
<rect x="356.5" y="304.5" width="2.4" height="1.5" fill="#4170bf"/>
<rect x="360.9" y="307.4" width="2.4" height="1.5" fill="#4170bf"/>
<rect x="365.3" y="309.9" width="2.4" height="1.5" fill="#4170bf"/>
<rect x="369.6" y="312.5" width="2.4" height="1.5" fill="#4170bf"/>
<rect x="374.0" y="315.8" width="2.4" height="1.5" fill="#4170bf"/>
<rect x="378.3" y="322.4" width="2.4" height="1.5" fill="#4170bf"/>
<rect x="382.7" y="312.8" width="2.4" height="1.5" fill="#4170bf"/>
<rect x="387.1" y="292.5" width="2.4" height="1.5" fill="#4170bf"/>
<rect x="391.4" y="284.7" width="2.4" height="1.5" fill="#4170bf"/>
<rect x="395.8" y="283.8" width="2.4" height="1.5" fill="#4170bf"/>
<rect x="400.1" y="283.3" width="2.4" height="1.5" fill="#4170bf"/>
<rect x="404.5" y="283.3" width="2.4" height="1.5" fill="#4170bf"/>
<rect x="408.9" y="283.7" width="2.4" height="1.5" fill="#4170bf"/>
<rect x="413.2" y="284.5" width="2.4" height="1.5" fill="#4170bf"/>
<path d="M100.0,299.9 C101.5,299.9 105.8,299.9 108.7,300.2 C111.6,300.5 114.3,301.0 117.5,301.9 C120.7,302.8 124.9,304.0 127.6,305.3 C130.3,306.6 131.3,308.3 133.5,309.6 C135.7,310.9 138.3,312.2 140.7,313.3 C143.1,314.4 145.8,314.2 148.0,316.2 C150.2,318.1 152.5,322.6 154.2,325.0 C155.9,327.4 156.9,328.6 158.3,330.8 C159.7,333.0 161.1,335.5 162.5,338.3 C163.9,341.1 165.5,344.3 166.7,347.5 C167.9,350.7 168.2,355.8 169.6,357.5 C170.9,359.2 173.7,359.1 174.8,357.5 C176.0,355.9 175.9,352.6 176.5,348.0 C177.1,343.4 177.8,335.3 178.5,330.0 C179.2,324.7 179.9,319.3 180.5,316.0 C181.1,312.7 181.4,311.5 182.0,310.0 C182.6,308.5 183.2,307.8 184.0,307.0 C184.8,306.2 185.4,305.9 186.7,305.5 C188.0,305.1 191.0,305.0 191.8,304.9 C192.7,304.8 189.9,304.9 191.8,304.9 C193.8,304.9 199.9,304.8 203.5,304.9 C207.1,305.0 210.0,305.6 213.6,305.5 C217.2,305.4 221.7,304.9 225.3,304.5 C229.0,304.1 232.6,303.6 235.5,303.4 C238.4,303.1 240.6,302.9 242.7,303.0 C244.8,303.1 246.2,303.8 248.0,304.0 C249.8,304.2 251.3,304.9 253.7,304.5 C256.1,304.1 259.4,302.4 262.5,301.5 C265.6,300.6 269.2,299.6 272.6,299.1 C276.0,298.6 279.7,298.9 282.8,298.6 C285.9,298.3 288.6,297.1 291.5,297.2 C294.4,297.3 297.4,298.4 300.3,299.4 C303.2,300.4 305.8,302.1 308.7,303.3 C311.6,304.6 314.8,305.9 317.5,306.9 C320.2,307.9 322.3,307.0 324.7,309.1 C327.1,311.2 329.8,319.6 332.0,319.3 C334.2,319.1 335.9,310.3 337.8,307.6 C339.7,304.9 341.9,304.3 343.6,303.3 C345.3,302.3 346.3,301.6 348.0,301.8 C349.7,302.0 351.6,303.2 353.8,304.7 C356.0,306.1 358.6,308.8 361.1,310.5 C363.6,312.2 366.2,312.9 368.7,314.9 C371.2,316.8 374.2,320.5 376.0,322.2 C377.8,323.9 378.5,324.9 379.6,325.1 C380.7,325.3 381.4,326.3 382.5,323.6 C383.6,320.9 384.9,314.0 386.2,309.1 C387.5,304.2 389.3,297.1 390.5,294.5 C391.7,291.9 391.8,293.9 393.5,293.8 C395.2,293.7 398.0,293.6 400.7,293.8 C403.4,294.1 406.7,294.6 409.5,295.3 C412.3,296.0 416.2,297.7 417.5,298.2" fill="none" stroke="#8aa5d8" stroke-width="1.45" stroke-linejoin="round"/>
<path d="M100.0,321.3 L108.7,321.7 L118.9,322.0 L129.1,322.0 L136.4,322.7 L139.3,326.4 L143.6,330.7 L148.0,332.9 L155.0,334.2 L160.0,338.3 L164.2,343.3 L167.5,350.0 L169.5,357.5 L174.3,357.5 L176.5,349.0 L179.2,333.0 L182.0,327.5 L186.7,323.3 L191.8,320.5 L198.3,318.0 L199.1,318.6 L206.4,317.5 L219.5,317.1 L228.2,318.0 L232.5,319.0 L235.5,325.5 L239.8,329.2 L244.2,333.5 L250.8,337.2 L255.2,343.0 L259.5,349.5 L263.2,340.1 L266.8,329.9 L271.2,323.4 L277.0,319.0 L282.8,317.5 L291.5,316.1 L300.3,316.5 L309.0,317.7 L317.7,319.0 L326.2,320.7 L333.5,322.9 L337.8,323.6 L342.2,320.0 L346.5,314.2 L350.9,312.7 L355.3,313.5 L361.1,316.4 L368.7,319.3 L376.0,324.4 L379.6,325.8 L383.3,323.6 L387.6,314.9 L390.5,308.4 L394.2,305.5 L399.3,307.6 L405.1,309.8 L411.6,312.3" fill="none" stroke="#aabce3" stroke-width="1.45" stroke-linejoin="round"/>
<rect x="99.3" y="320.1" width="2.4" height="2.4" fill="#aabce3"/>
<rect x="103.7" y="320.3" width="2.4" height="2.4" fill="#aabce3"/>
<rect x="108.0" y="320.5" width="2.4" height="2.4" fill="#aabce3"/>
<rect x="112.4" y="320.6" width="2.4" height="2.4" fill="#aabce3"/>
<rect x="116.7" y="320.8" width="2.4" height="2.4" fill="#aabce3"/>
<rect x="121.1" y="320.8" width="2.4" height="2.4" fill="#aabce3"/>
<rect x="125.5" y="320.8" width="2.4" height="2.4" fill="#aabce3"/>
<rect x="129.8" y="321.0" width="2.4" height="2.4" fill="#aabce3"/>
<rect x="134.2" y="321.4" width="2.4" height="2.4" fill="#aabce3"/>
<rect x="138.5" y="325.6" width="2.4" height="2.4" fill="#aabce3"/>
<rect x="142.9" y="329.8" width="2.4" height="2.4" fill="#aabce3"/>
<rect x="147.3" y="331.8" width="2.4" height="2.4" fill="#aabce3"/>
<rect x="151.6" y="332.6" width="2.4" height="2.4" fill="#aabce3"/>
<rect x="156.0" y="334.8" width="2.4" height="2.4" fill="#aabce3"/>
<rect x="160.3" y="338.9" width="2.4" height="2.4" fill="#aabce3"/>
<rect x="164.7" y="345.6" width="2.4" height="2.4" fill="#aabce3"/>
<rect x="169.1" y="356.3" width="2.4" height="2.4" fill="#aabce3"/>
<rect x="173.4" y="355.1" width="2.4" height="2.4" fill="#aabce3"/>
<rect x="177.8" y="333.1" width="2.4" height="2.4" fill="#aabce3"/>
<rect x="182.1" y="325.1" width="2.4" height="2.4" fill="#aabce3"/>
<rect x="186.5" y="321.6" width="2.4" height="2.4" fill="#aabce3"/>
<rect x="190.9" y="319.2" width="2.4" height="2.4" fill="#aabce3"/>
<rect x="195.2" y="317.5" width="2.4" height="2.4" fill="#aabce3"/>
<rect x="199.6" y="317.1" width="2.4" height="2.4" fill="#aabce3"/>
<rect x="203.9" y="316.5" width="2.4" height="2.4" fill="#aabce3"/>
<rect x="208.3" y="316.2" width="2.4" height="2.4" fill="#aabce3"/>
<rect x="212.7" y="316.1" width="2.4" height="2.4" fill="#aabce3"/>
<rect x="217.0" y="315.9" width="2.4" height="2.4" fill="#aabce3"/>
<rect x="221.4" y="316.2" width="2.4" height="2.4" fill="#aabce3"/>
<rect x="225.7" y="316.7" width="2.4" height="2.4" fill="#aabce3"/>
<rect x="230.1" y="317.5" width="2.4" height="2.4" fill="#aabce3"/>
<rect x="234.5" y="324.4" width="2.4" height="2.4" fill="#aabce3"/>
<rect x="238.8" y="328.2" width="2.4" height="2.4" fill="#aabce3"/>
<rect x="243.2" y="332.4" width="2.4" height="2.4" fill="#aabce3"/>
<rect x="247.5" y="334.8" width="2.4" height="2.4" fill="#aabce3"/>
<rect x="251.9" y="339.0" width="2.4" height="2.4" fill="#aabce3"/>
<rect x="256.3" y="345.2" width="2.4" height="2.4" fill="#aabce3"/>
<rect x="260.6" y="342.4" width="2.4" height="2.4" fill="#aabce3"/>
<rect x="265.0" y="330.5" width="2.4" height="2.4" fill="#aabce3"/>
<rect x="269.3" y="323.2" width="2.4" height="2.4" fill="#aabce3"/>
<rect x="273.7" y="319.4" width="2.4" height="2.4" fill="#aabce3"/>
<rect x="278.1" y="317.2" width="2.4" height="2.4" fill="#aabce3"/>
<rect x="282.4" y="316.2" width="2.4" height="2.4" fill="#aabce3"/>
<rect x="286.8" y="315.5" width="2.4" height="2.4" fill="#aabce3"/>
<rect x="291.1" y="314.9" width="2.4" height="2.4" fill="#aabce3"/>
<rect x="295.5" y="315.1" width="2.4" height="2.4" fill="#aabce3"/>
<rect x="299.9" y="315.4" width="2.4" height="2.4" fill="#aabce3"/>
<rect x="304.2" y="316.0" width="2.4" height="2.4" fill="#aabce3"/>
<rect x="308.6" y="316.6" width="2.4" height="2.4" fill="#aabce3"/>
<rect x="312.9" y="317.3" width="2.4" height="2.4" fill="#aabce3"/>
<rect x="317.3" y="318.0" width="2.4" height="2.4" fill="#aabce3"/>
<rect x="321.7" y="318.8" width="2.4" height="2.4" fill="#aabce3"/>
<rect x="326.0" y="319.8" width="2.4" height="2.4" fill="#aabce3"/>
<rect x="330.4" y="321.1" width="2.4" height="2.4" fill="#aabce3"/>
<rect x="334.7" y="322.1" width="2.4" height="2.4" fill="#aabce3"/>
<rect x="339.1" y="320.4" width="2.4" height="2.4" fill="#aabce3"/>
<rect x="343.5" y="315.5" width="2.4" height="2.4" fill="#aabce3"/>
<rect x="347.8" y="312.1" width="2.4" height="2.4" fill="#aabce3"/>
<rect x="352.2" y="312.0" width="2.4" height="2.4" fill="#aabce3"/>
<rect x="356.5" y="313.5" width="2.4" height="2.4" fill="#aabce3"/>
<rect x="360.9" y="315.6" width="2.4" height="2.4" fill="#aabce3"/>
<rect x="365.3" y="317.2" width="2.4" height="2.4" fill="#aabce3"/>
<rect x="369.6" y="319.6" width="2.4" height="2.4" fill="#aabce3"/>
<rect x="374.0" y="322.6" width="2.4" height="2.4" fill="#aabce3"/>
<rect x="378.3" y="324.6" width="2.4" height="2.4" fill="#aabce3"/>
<rect x="382.7" y="321.2" width="2.4" height="2.4" fill="#aabce3"/>
<rect x="387.1" y="312.2" width="2.4" height="2.4" fill="#aabce3"/>
<rect x="391.4" y="305.5" width="2.4" height="2.4" fill="#aabce3"/>
<rect x="395.8" y="305.4" width="2.4" height="2.4" fill="#aabce3"/>
<rect x="400.1" y="307.2" width="2.4" height="2.4" fill="#aabce3"/>
<rect x="404.5" y="308.8" width="2.4" height="2.4" fill="#aabce3"/>
<rect x="408.9" y="310.5" width="2.4" height="2.4" fill="#aabce3"/>
<text x="93.2" y="225.5" font-family="Liberation Serif, serif" font-weight="bold" font-size="8.7" text-anchor="end" fill="#222">100</text>
<text x="93.2" y="246.3" font-family="Liberation Serif, serif" font-weight="bold" font-size="8.7" text-anchor="end" fill="#222">0</text>
<text x="93.2" y="267.1" font-family="Liberation Serif, serif" font-weight="bold" font-size="8.7" text-anchor="end" fill="#222">–100</text>
<text x="93.2" y="288.0" font-family="Liberation Serif, serif" font-weight="bold" font-size="8.7" text-anchor="end" fill="#222">–200</text>
<text x="93.2" y="308.8" font-family="Liberation Serif, serif" font-weight="bold" font-size="8.7" text-anchor="end" fill="#222">–300</text>
<text x="93.2" y="329.6" font-family="Liberation Serif, serif" font-weight="bold" font-size="8.7" text-anchor="end" fill="#222">–400</text>
<text x="93.2" y="350.4" font-family="Liberation Serif, serif" font-weight="bold" font-size="8.7" text-anchor="end" fill="#222">–500</text>
<text x="93.2" y="371.2" font-family="Liberation Serif, serif" font-weight="bold" font-size="8.7" text-anchor="end" fill="#222">–600</text>
<text x="100.5" y="383.6" font-family="Liberation Serif, serif" font-weight="bold" font-size="8.7" text-anchor="middle" fill="#222">0</text>
<text x="153.6" y="383.6" font-family="Liberation Serif, serif" font-weight="bold" font-size="8.7" text-anchor="middle" fill="#222">2</text>
<text x="206.7" y="383.6" font-family="Liberation Serif, serif" font-weight="bold" font-size="8.7" text-anchor="middle" fill="#222">4</text>
<text x="259.7" y="383.6" font-family="Liberation Serif, serif" font-weight="bold" font-size="8.7" text-anchor="middle" fill="#222">6</text>
<text x="312.8" y="383.6" font-family="Liberation Serif, serif" font-weight="bold" font-size="8.7" text-anchor="middle" fill="#222">8</text>
<text x="365.9" y="383.6" font-family="Liberation Serif, serif" font-weight="bold" font-size="8.7" text-anchor="middle" fill="#222">10</text>
<text x="419.0" y="383.6" font-family="Liberation Serif, serif" font-weight="bold" font-size="8.7" text-anchor="middle" fill="#222">12</text>
<text x="472.1" y="383.6" font-family="Liberation Serif, serif" font-weight="bold" font-size="8.7" text-anchor="middle" fill="#222">14</text>
<text x="299.3" y="392" font-family="Liberation Serif, serif" font-weight="bold" font-size="8.2" text-anchor="middle" fill="#222">X/µm</text>
<text transform="translate(73,295.8) rotate(-90)" font-family="Liberation Serif, serif" font-weight="bold" font-size="8.2" text-anchor="middle" fill="#222">Z/nm</text>
<text x="152.3" y="229.6" font-family="Liberation Serif, serif" font-weight="bold" font-size="7.8" text-anchor="middle" fill="#222">Zone A</text>
<text x="243.7" y="229.6" font-family="Liberation Serif, serif" font-weight="bold" font-size="7.8" text-anchor="middle" fill="#222">Zone B</text>
<text x="372.1" y="229.6" font-family="Liberation Serif, serif" font-weight="bold" font-size="7.8" text-anchor="middle" fill="#222">Zone C</text>
<line x1="424.5" y1="251.4" x2="436.8" y2="251.4" stroke="#2f5a9c" stroke-width="1.6"/>
<circle cx="430.8" cy="251.4" r="1.3" fill="#2f5a9c"/>
<text x="437.6" y="255.2" font-family="Liberation Serif, serif" font-weight="bold" font-size="8.5" fill="#222">initial</text>
<line x1="424.5" y1="267.6" x2="436.8" y2="267.6" stroke="#3c6bb6" stroke-width="1.6"/>
<text x="437.6" y="271.4" font-family="Liberation Serif, serif" font-weight="bold" font-size="8.5" fill="#222">100nm removed</text>
<line x1="424.5" y1="283.6" x2="436.8" y2="283.6" stroke="#4170bf" stroke-width="1.6"/>
<rect x="429.6" y="283.3" width="2.4" height="1.5" fill="#4170bf"/>
<text x="437.6" y="287.4" font-family="Liberation Serif, serif" font-weight="bold" font-size="8.5" fill="#222">200nm removed</text>
<line x1="424.5" y1="299.6" x2="436.8" y2="299.6" stroke="#8aa5d8" stroke-width="1.6"/>
<text x="437.6" y="303.4" font-family="Liberation Serif, serif" font-weight="bold" font-size="8.5" fill="#222">300nm removed</text>
<line x1="424.5" y1="315.5" x2="436.8" y2="315.5" stroke="#aabce3" stroke-width="1.6"/>
<rect x="429.7" y="314.4" width="2.2" height="2.2" fill="#aabce3"/>
<text x="437.6" y="319.3" font-family="Liberation Serif, serif" font-weight="bold" font-size="8.5" fill="#222">400nm removed</text>
<text x="132.2" y="205.3" font-family="Liberation Serif, serif" font-size="12.2" text-anchor="middle" fill="#111">(<tspan font-weight="bold">a</tspan>)</text>
<text x="417.2" y="205" font-family="Liberation Serif, serif" font-size="12" text-anchor="middle" fill="#111">(<tspan font-weight="bold">b</tspan>)</text>
<text x="286.1" y="414" font-family="Liberation Serif, serif" font-weight="bold" font-size="11.8" text-anchor="middle" fill="#111">(c)</text>
</svg>
</body></html>
